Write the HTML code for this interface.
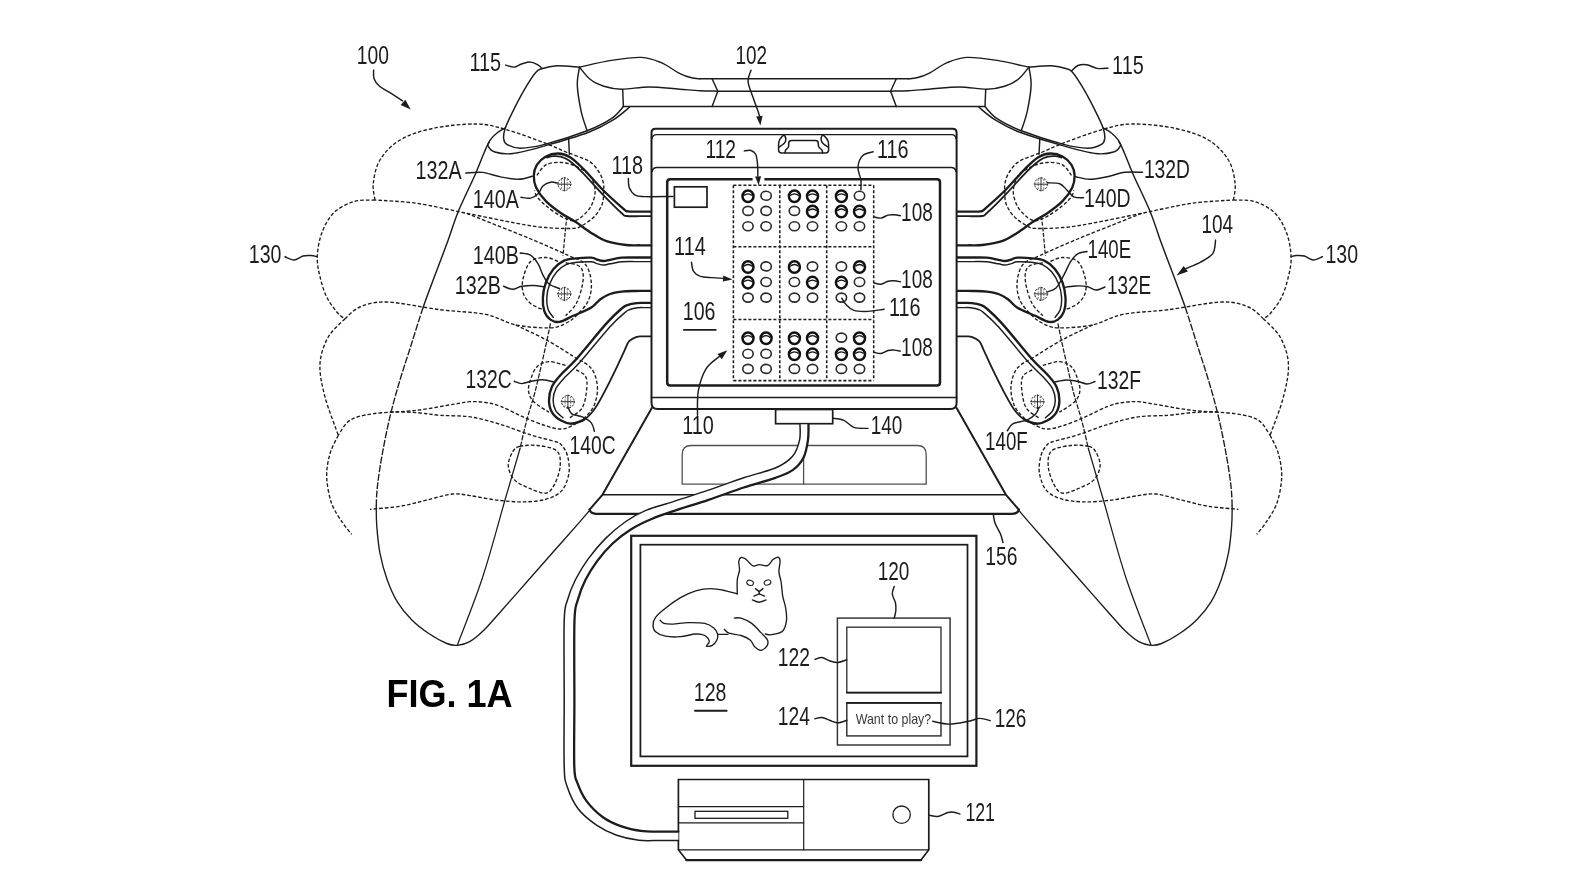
<!DOCTYPE html>
<html><head><meta charset="utf-8"><title>FIG. 1A</title>
<style>
html,body{margin:0;padding:0;background:#fff;}
body{width:1590px;height:892px;overflow:hidden;font-family:"Liberation Sans",sans-serif;}
svg{display:block;}
svg text{font-family:"Liberation Sans",sans-serif;}
</style></head><body>
<svg style="will-change:transform" width="1590" height="892" viewBox="0 0 1590 892">
<rect width="1590" height="892" fill="#fff"/>
<path d="M505.4,127.8C504.0,128.7 499.5,131.0 497.0,133.0C494.5,135.0 492.5,136.6 490.3,139.9C488.1,143.2 486.5,147.2 484.0,153.0C481.5,158.8 479.4,164.9 475.1,174.7C470.8,184.5 462.7,200.8 458.2,211.7C453.7,222.6 452.2,229.0 448.2,240.0C444.2,251.0 438.3,266.4 434.1,277.6C429.9,288.9 427.0,296.0 423.1,307.5" fill="none" stroke="#1c1c1c" stroke-width="1.45" stroke-linecap="round" stroke-linejoin="round" />
<path d="M423.1,307.5C419.2,319.0 414.5,334.4 410.6,346.7C406.7,359.0 403.0,369.7 399.6,381.2C396.2,392.7 393.1,403.7 390.2,415.7C387.3,427.7 384.5,441.8 382.4,453.3C380.3,464.8 378.6,475.9 377.6,484.7C376.6,493.5 376.4,499.1 376.3,506.0" fill="none" stroke="#1c1c1c" stroke-width="1.35" stroke-dasharray="7 1.6" stroke-linecap="butt" stroke-linejoin="round" />
<path d="M376.3,506.0C376.2,513.0 376.2,518.6 376.8,526.4C377.4,534.2 378.2,544.0 379.9,552.8C381.6,561.6 384.1,571.0 387.0,579.2C389.9,587.4 393.4,595.4 397.5,602.1C401.6,608.9 406.3,614.4 411.6,619.7C416.9,625.0 423.3,629.8 429.2,633.8C435.1,637.8 442.1,641.6 446.8,643.5C451.5,645.4 453.6,645.6 457.4,645.3C461.2,645.0 465.3,644.2 469.7,641.7C474.1,639.2 478.8,635.1 483.8,630.3C488.8,625.5 492.6,620.6 499.7,612.7C506.8,604.8 517.3,592.8 526.1,582.8C534.9,572.8 543.7,562.8 552.5,552.8C561.3,542.8 572.7,530.0 578.9,522.9C585.1,515.8 587.8,512.5 589.6,510.4" fill="none" stroke="#1c1c1c" stroke-width="1.35" stroke-linecap="round" stroke-linejoin="round" />
<path d="M1103.0,127.8C1104.4,128.7 1108.9,131.0 1111.4,133.0C1113.9,135.0 1115.9,136.6 1118.1,139.9C1120.3,143.2 1121.9,147.2 1124.4,153.0C1126.9,158.8 1129.0,164.9 1133.3,174.7C1137.6,184.5 1145.7,200.8 1150.2,211.7C1154.7,222.6 1156.2,229.0 1160.2,240.0C1164.2,251.0 1170.1,266.4 1174.3,277.6C1178.5,288.9 1181.4,296.0 1185.3,307.5" fill="none" stroke="#1c1c1c" stroke-width="1.45" stroke-linecap="round" stroke-linejoin="round" />
<path d="M1185.3,307.5C1189.2,319.0 1193.9,334.4 1197.8,346.7C1201.7,359.0 1205.4,369.7 1208.8,381.2C1212.2,392.7 1215.3,403.7 1218.2,415.7C1221.1,427.7 1223.9,441.8 1226.0,453.3C1228.1,464.8 1229.8,475.9 1230.8,484.7C1231.8,493.5 1232.0,499.1 1232.1,506.0" fill="none" stroke="#1c1c1c" stroke-width="1.35" stroke-dasharray="7 1.6" stroke-linecap="butt" stroke-linejoin="round" />
<path d="M1232.1,506.0C1232.2,513.0 1232.2,518.6 1231.6,526.4C1231.0,534.2 1230.2,544.0 1228.5,552.8C1226.8,561.6 1224.3,571.0 1221.4,579.2C1218.5,587.4 1215.0,595.4 1210.9,602.1C1206.8,608.9 1202.1,614.4 1196.8,619.7C1191.5,625.0 1185.1,629.8 1179.2,633.8C1173.3,637.8 1166.3,641.6 1161.6,643.5C1156.9,645.4 1154.8,645.6 1151.0,645.3C1147.2,645.0 1143.1,644.2 1138.7,641.7C1134.3,639.2 1129.6,635.1 1124.6,630.3C1119.6,625.5 1115.8,620.6 1108.7,612.7C1101.7,604.8 1091.1,592.8 1082.3,582.8C1073.5,572.8 1064.7,562.8 1055.9,552.8C1047.1,542.8 1035.7,530.0 1029.5,522.9C1023.3,515.8 1020.6,512.5 1018.8,510.4" fill="none" stroke="#1c1c1c" stroke-width="1.35" stroke-linecap="round" stroke-linejoin="round" />
<path d="M568.6,139.1L569.4,154.2" fill="none" stroke="#1c1c1c" stroke-width="1.45" stroke-linecap="round" stroke-linejoin="round" />
<path d="M1039.8,139.1L1039.0,154.2" fill="none" stroke="#1c1c1c" stroke-width="1.45" stroke-linecap="round" stroke-linejoin="round" />
<path d="M567.1,216.3C566.9,218.2 566.3,221.4 565.6,228.0C564.9,234.6 563.4,251.3 563.0,256.0" fill="none" stroke="#1c1c1c" stroke-width="1.25" stroke-dasharray="4 1.6" stroke-linecap="butt" stroke-linejoin="round" />
<path d="M1041.3,216.3C1041.5,218.2 1042.1,221.4 1042.8,228.0C1043.5,234.6 1045.0,251.3 1045.4,256.0" fill="none" stroke="#1c1c1c" stroke-width="1.25" stroke-dasharray="4 1.6" stroke-linecap="butt" stroke-linejoin="round" />
<path d="M550.5,323.4C549.5,328.2 547.0,340.6 544.4,352.0C541.8,363.4 537.9,380.7 535.0,392.0C532.1,403.3 529.3,410.7 526.8,420.0C524.3,429.3 521.3,443.3 520.2,448.0" fill="none" stroke="#1c1c1c" stroke-width="1.25" stroke-dasharray="5 1.4" stroke-linecap="butt" stroke-linejoin="round" />
<path d="M1057.9,323.4C1058.9,328.2 1061.4,340.6 1064.0,352.0C1066.6,363.4 1070.5,380.7 1073.4,392.0C1076.3,403.3 1079.1,410.7 1081.6,420.0C1084.1,429.3 1087.1,443.3 1088.2,448.0" fill="none" stroke="#1c1c1c" stroke-width="1.25" stroke-dasharray="5 1.4" stroke-linecap="butt" stroke-linejoin="round" />
<path d="M520.2,448.0C517.7,456.7 511.2,478.6 505.0,500.0C498.8,521.5 490.7,552.5 482.8,576.7C474.9,600.9 461.6,633.6 457.4,645.0" fill="none" stroke="#1c1c1c" stroke-width="1.25" stroke-linecap="round" stroke-linejoin="round" />
<path d="M1088.2,448.0C1090.7,456.7 1097.2,478.6 1103.4,500.0C1109.6,521.5 1117.7,552.5 1125.6,576.7C1133.5,600.9 1146.8,633.6 1151.0,645.0" fill="none" stroke="#1c1c1c" stroke-width="1.25" stroke-linecap="round" stroke-linejoin="round" />
<path d="M579.5,67.2C575.7,67.0 563.2,65.4 556.9,65.7C550.6,66.0 545.2,67.6 541.7,68.8C538.2,69.9 538.5,69.2 535.7,72.5C532.9,75.8 528.9,82.0 525.1,88.4C521.3,94.8 516.3,104.5 513.0,111.1C509.7,117.7 507.0,123.2 505.4,127.8C503.8,132.3 503.4,135.6 503.6,138.4C503.9,141.2 504.1,142.8 506.9,144.4C509.7,146.0 514.2,148.2 520.5,148.2C526.8,148.2 533.6,147.3 544.7,144.4C555.8,141.5 576.0,135.1 587.1,130.8C598.2,126.5 605.2,122.7 611.3,118.7C617.3,114.7 621.4,108.6 623.4,106.6" fill="none" stroke="#1c1c1c" stroke-width="1.45" stroke-linecap="round" stroke-linejoin="round" />
<path d="M1028.9,67.2C1032.7,67.0 1045.2,65.4 1051.5,65.7C1057.8,66.0 1063.2,67.6 1066.7,68.8C1070.2,69.9 1069.9,69.2 1072.7,72.5C1075.5,75.8 1079.5,82.0 1083.3,88.4C1087.1,94.8 1092.1,104.5 1095.4,111.1C1098.7,117.7 1101.4,123.2 1103.0,127.8C1104.6,132.3 1105.0,135.6 1104.8,138.4C1104.5,141.2 1104.3,142.8 1101.5,144.4C1098.7,146.0 1094.2,148.2 1087.9,148.2C1081.6,148.2 1074.8,147.3 1063.7,144.4C1052.6,141.5 1032.4,135.1 1021.3,130.8C1010.2,126.5 1003.1,122.7 997.1,118.7C991.1,114.7 987.0,108.6 985.0,106.6" fill="none" stroke="#1c1c1c" stroke-width="1.45" stroke-linecap="round" stroke-linejoin="round" />
<path d="M579.5,67.2C579.1,70.2 577.0,78.1 577.3,85.4C577.6,92.7 579.5,103.5 581.1,111.1C582.7,118.7 586.1,127.5 587.1,130.8" fill="none" stroke="#1c1c1c" stroke-width="1.45" stroke-linecap="round" stroke-linejoin="round" />
<path d="M1028.9,67.2C1029.3,70.2 1031.4,78.1 1031.1,85.4C1030.8,92.7 1028.9,103.5 1027.3,111.1C1025.7,118.7 1022.3,127.5 1021.3,130.8" fill="none" stroke="#1c1c1c" stroke-width="1.45" stroke-linecap="round" stroke-linejoin="round" />
<path d="M489.3,142.0C489.1,142.7 487.1,144.2 488.0,145.9C488.9,147.6 490.6,150.7 494.8,152.0C499.0,153.3 504.7,154.5 513.0,153.5C521.3,152.5 532.1,149.4 544.7,145.9C557.3,142.4 577.2,136.6 588.6,132.3C600.0,128.0 606.0,124.4 612.8,120.2C619.6,116.0 626.7,109.5 629.5,107.3" fill="none" stroke="#1c1c1c" stroke-width="1.45" stroke-linecap="round" stroke-linejoin="round" />
<path d="M1119.1,142.0C1119.3,142.7 1121.3,144.2 1120.4,145.9C1119.5,147.6 1117.8,150.7 1113.6,152.0C1109.4,153.3 1103.7,154.5 1095.4,153.5C1087.1,152.5 1076.3,149.4 1063.7,145.9C1051.1,142.4 1031.1,136.6 1019.8,132.3C1008.4,128.0 1002.4,124.4 995.6,120.2C988.8,116.0 981.7,109.5 978.9,107.3" fill="none" stroke="#1c1c1c" stroke-width="1.45" stroke-linecap="round" stroke-linejoin="round" />
<path d="M579.5,67.2C584.8,66.1 600.9,62.0 611.3,60.4C621.6,58.8 633.3,57.0 641.6,57.4C649.9,57.8 655.0,60.1 661.3,62.7C667.6,65.4 674.4,70.8 679.4,73.3C684.4,75.8 688.1,76.9 691.5,77.8C694.9,78.7 698.6,78.6 700.0,78.8" fill="none" stroke="#1c1c1c" stroke-width="1.45" stroke-linecap="round" stroke-linejoin="round" />
<path d="M1028.9,67.2C1023.6,66.1 1007.5,62.0 997.1,60.4C986.8,58.8 975.1,57.0 966.8,57.4C958.5,57.8 953.4,60.1 947.1,62.7C940.8,65.4 934.0,70.8 929.0,73.3C924.0,75.8 920.3,76.9 916.9,77.8C913.5,78.7 909.8,78.6 908.4,78.8" fill="none" stroke="#1c1c1c" stroke-width="1.45" stroke-linecap="round" stroke-linejoin="round" />
<path d="M579.5,67.2C581.3,69.2 586.1,76.1 590.1,79.3C594.1,82.5 598.5,84.5 603.8,86.2C609.1,87.9 614.3,89.1 621.9,89.2C629.5,89.3 639.6,86.9 649.2,86.9C658.8,86.9 670.9,88.6 679.4,89.2C687.9,89.8 693.6,90.4 700.0,90.7C706.4,91.0 714.8,91.1 717.8,91.2" fill="none" stroke="#1c1c1c" stroke-width="1.45" stroke-linecap="round" stroke-linejoin="round" />
<path d="M1028.9,67.2C1027.1,69.2 1022.3,76.1 1018.3,79.3C1014.2,82.5 1009.9,84.5 1004.6,86.2C999.3,87.9 994.1,89.1 986.5,89.2C978.9,89.3 968.8,86.9 959.2,86.9C949.6,86.9 937.5,88.6 929.0,89.2C920.5,89.8 914.8,90.4 908.4,90.7C902.0,91.0 893.6,91.1 890.6,91.2" fill="none" stroke="#1c1c1c" stroke-width="1.45" stroke-linecap="round" stroke-linejoin="round" />
<path d="M622.7,89.9L623.4,106.6" fill="none" stroke="#1c1c1c" stroke-width="1.45" stroke-linecap="round" stroke-linejoin="round" />
<path d="M985.7,89.9L985.0,106.6" fill="none" stroke="#1c1c1c" stroke-width="1.45" stroke-linecap="round" stroke-linejoin="round" />
<path d="M700.0,78.8L908.4,78.8" fill="none" stroke="#1c1c1c" stroke-width="1.45" stroke-linecap="round" stroke-linejoin="round" />
<path d="M717.8,91.2L890.6,91.2" fill="none" stroke="#1c1c1c" stroke-width="1.45" stroke-linecap="round" stroke-linejoin="round" />
<path d="M623.4,106.5L985.0,106.5" fill="none" stroke="#1c1c1c" stroke-width="1.45" stroke-linecap="round" stroke-linejoin="round" />
<path d="M712.1,78.8L717.8,91.2L712.1,106.5" fill="none" stroke="#1c1c1c" stroke-width="1.45" stroke-linecap="round" stroke-linejoin="round" />
<path d="M896.3,78.8L890.6,91.2L896.3,106.5" fill="none" stroke="#1c1c1c" stroke-width="1.45" stroke-linecap="round" stroke-linejoin="round" />
<path d="M651.5,211.6C649.6,211.6 643.9,211.6 640.0,211.6C636.1,211.6 630.8,211.9 628.0,211.4C625.2,210.9 627.6,212.3 623.5,208.8C619.4,205.3 610.0,197.1 603.4,190.5C596.8,183.9 589.3,174.9 583.8,169.3C578.2,163.8 574.4,159.8 570.1,157.2C565.8,154.6 562.0,153.6 558.0,153.5C554.0,153.4 549.4,154.6 545.9,156.5C542.4,158.4 538.9,161.7 536.9,164.8C534.9,168.0 533.9,171.6 533.8,175.4C533.7,179.2 534.1,183.2 536.1,187.5C538.1,191.8 541.7,196.8 545.9,201.1C550.1,205.4 556.0,209.7 561.1,213.2C566.2,216.7 571.2,219.0 576.2,222.3C581.2,225.6 586.2,229.8 591.3,232.9C596.3,236.1 600.7,239.2 606.5,241.2C612.3,243.2 620.5,244.3 626.1,245.0C631.7,245.7 635.8,245.2 640.0,245.3C644.2,245.4 649.6,245.3 651.5,245.3" fill="none" stroke="#1c1c1c" stroke-width="2.35" stroke-linecap="round" stroke-linejoin="round" />
<path d="M956.9,211.6C958.8,211.6 964.5,211.6 968.4,211.6C972.3,211.6 977.6,211.9 980.4,211.4C983.1,210.9 980.8,212.3 984.9,208.8C989.0,205.3 998.4,197.1 1005.0,190.5C1011.6,183.9 1019.0,174.9 1024.6,169.3C1030.1,163.8 1034.0,159.8 1038.3,157.2C1042.6,154.6 1046.4,153.6 1050.4,153.5C1054.4,153.4 1059.0,154.6 1062.5,156.5C1066.0,158.4 1069.5,161.7 1071.5,164.8C1073.5,168.0 1074.5,171.6 1074.6,175.4C1074.7,179.2 1074.3,183.2 1072.3,187.5C1070.3,191.8 1066.7,196.8 1062.5,201.1C1058.3,205.4 1052.3,209.7 1047.3,213.2C1042.2,216.7 1037.2,219.0 1032.2,222.3C1027.2,225.6 1022.2,229.8 1017.1,232.9C1012.0,236.1 1007.7,239.2 1001.9,241.2C996.1,243.2 987.9,244.3 982.3,245.0C976.7,245.7 972.6,245.2 968.4,245.3C964.2,245.4 958.8,245.3 956.9,245.3" fill="none" stroke="#1c1c1c" stroke-width="2.35" stroke-linecap="round" stroke-linejoin="round" />
<path d="M651.5,216.2C649.6,216.2 644.2,216.2 640.0,216.2C635.8,216.2 629.6,216.5 626.5,216.0C623.4,215.5 625.6,216.7 621.5,213.0C617.4,209.3 608.4,200.4 601.9,193.6C595.4,186.8 587.8,177.9 582.3,172.4C576.8,166.9 572.2,162.9 568.6,160.3C565.0,157.7 563.1,157.4 560.5,156.7C557.9,156.0 555.2,156.0 553.0,156.2C550.8,156.3 548.0,157.4 547.0,157.6" fill="none" stroke="#1c1c1c" stroke-width="1.8" stroke-linecap="round" stroke-linejoin="round" />
<path d="M956.9,216.2C958.8,216.2 964.2,216.2 968.4,216.2C972.6,216.2 978.8,216.5 981.9,216.0C985.0,215.5 982.8,216.7 986.9,213.0C991.0,209.3 1000.0,200.4 1006.5,193.6C1013.0,186.8 1020.5,177.9 1026.1,172.4C1031.6,166.9 1036.2,162.9 1039.8,160.3C1043.4,157.7 1045.3,157.4 1047.9,156.7C1050.5,156.0 1053.2,156.0 1055.4,156.2C1057.7,156.3 1060.4,157.4 1061.4,157.6" fill="none" stroke="#1c1c1c" stroke-width="1.8" stroke-linecap="round" stroke-linejoin="round" />
<path d="M651.5,257.5C648.8,257.5 640.0,257.5 635.0,257.5C630.0,257.5 625.8,257.3 621.6,257.7C617.4,258.1 613.0,259.2 610.0,259.8C607.0,260.4 605.6,261.1 603.4,261.0C601.2,260.9 599.0,260.1 597.0,259.5C595.0,258.9 594.8,257.9 591.3,257.7C587.8,257.5 580.7,257.8 576.2,258.3C571.7,258.8 567.9,258.8 564.1,260.6C560.3,262.4 556.5,265.2 553.5,268.9C550.5,272.5 547.7,277.7 545.9,282.5C544.1,287.3 543.1,292.8 542.9,297.6C542.6,302.4 543.1,307.6 544.4,311.3C545.7,315.0 548.0,317.8 550.5,319.6C553.0,321.4 555.7,322.5 559.5,321.9C563.3,321.3 567.9,318.2 573.2,315.8C578.5,313.4 586.8,310.3 591.3,307.5C595.8,304.7 597.3,301.4 600.4,299.2C603.5,296.9 606.5,295.3 610.0,294.0C613.5,292.7 617.4,292.1 621.6,291.6C625.8,291.1 630.0,291.1 635.0,291.0C640.0,290.9 648.8,290.8 651.5,290.8" fill="none" stroke="#1c1c1c" stroke-width="2.35" stroke-linecap="round" stroke-linejoin="round" />
<path d="M956.9,257.5C959.6,257.5 968.4,257.5 973.4,257.5C978.4,257.5 982.6,257.3 986.8,257.7C991.0,258.1 995.4,259.2 998.4,259.8C1001.4,260.4 1002.8,261.1 1005.0,261.0C1007.2,260.9 1009.4,260.1 1011.4,259.5C1013.4,258.9 1013.6,257.9 1017.1,257.7C1020.6,257.5 1027.7,257.8 1032.2,258.3C1036.7,258.8 1040.5,258.8 1044.3,260.6C1048.1,262.4 1051.9,265.2 1054.9,268.9C1057.9,272.5 1060.7,277.7 1062.5,282.5C1064.3,287.3 1065.2,292.8 1065.5,297.6C1065.8,302.4 1065.3,307.6 1064.0,311.3C1062.7,315.0 1060.4,317.8 1057.9,319.6C1055.4,321.4 1052.7,322.5 1048.9,321.9C1045.1,321.3 1040.5,318.2 1035.2,315.8C1029.9,313.4 1021.6,310.3 1017.1,307.5C1012.6,304.7 1011.1,301.4 1008.0,299.2C1004.9,296.9 1001.9,295.3 998.4,294.0C994.9,292.7 991.0,292.1 986.8,291.6C982.6,291.1 978.4,291.1 973.4,291.0C968.4,290.9 959.6,290.8 956.9,290.8" fill="none" stroke="#1c1c1c" stroke-width="2.35" stroke-linecap="round" stroke-linejoin="round" />
<path d="M651.5,261.6C648.8,261.6 640.0,261.6 635.0,261.6C630.0,261.6 625.8,261.4 621.6,261.8C617.4,262.2 613.0,263.3 610.0,263.8C607.0,264.3 605.6,265.0 603.4,265.0C601.2,265.0 599.0,264.1 597.0,263.6C595.0,263.1 594.6,262.0 591.3,261.8C588.0,261.6 581.2,261.8 577.0,262.3C572.8,262.8 569.4,263.0 566.0,264.6C562.6,266.2 559.5,268.6 556.8,271.8C554.1,275.0 551.4,279.7 549.7,284.0C548.0,288.3 547.0,293.3 546.8,297.6C546.5,301.9 547.1,306.5 548.2,309.8C549.3,313.1 552.4,316.1 553.3,317.3" fill="none" stroke="#1c1c1c" stroke-width="1.45" stroke-linecap="round" stroke-linejoin="round" />
<path d="M956.9,261.6C959.6,261.6 968.4,261.6 973.4,261.6C978.4,261.6 982.6,261.4 986.8,261.8C991.0,262.2 995.4,263.3 998.4,263.8C1001.4,264.3 1002.8,265.0 1005.0,265.0C1007.2,265.0 1009.4,264.1 1011.4,263.6C1013.4,263.1 1013.8,262.0 1017.1,261.8C1020.4,261.6 1027.2,261.8 1031.4,262.3C1035.6,262.8 1039.0,263.0 1042.4,264.6C1045.8,266.2 1048.9,268.6 1051.6,271.8C1054.3,275.0 1057.0,279.7 1058.7,284.0C1060.4,288.3 1061.3,293.3 1061.6,297.6C1061.8,301.9 1061.3,306.5 1060.2,309.8C1059.1,313.1 1055.9,316.1 1055.1,317.3" fill="none" stroke="#1c1c1c" stroke-width="1.45" stroke-linecap="round" stroke-linejoin="round" />
<path d="M651.5,302.9C650.1,302.9 645.5,302.9 643.0,302.9C640.5,302.9 639.2,302.8 636.7,303.1C634.2,303.4 630.5,303.9 628.0,304.8C625.5,305.7 625.2,305.5 621.6,308.6C618.0,311.7 614.1,314.9 606.5,323.4C598.9,331.8 583.8,350.8 576.2,359.3C568.6,367.8 565.1,369.9 561.1,374.5C557.1,379.1 554.0,382.3 552.0,386.6C550.0,390.9 549.0,395.9 549.0,400.2C549.0,404.5 550.0,408.9 552.0,412.3C554.0,415.7 557.8,418.7 561.1,420.6C564.4,422.5 567.9,423.8 571.7,423.7C575.5,423.6 581.8,420.5 583.8,419.9" fill="none" stroke="#1c1c1c" stroke-width="2.35" stroke-linecap="round" stroke-linejoin="round" />
<path d="M956.9,302.9C958.3,302.9 962.9,302.9 965.4,302.9C967.9,302.9 969.2,302.8 971.7,303.1C974.2,303.4 977.9,303.9 980.4,304.8C982.9,305.7 983.2,305.5 986.8,308.6C990.4,311.7 994.3,314.9 1001.9,323.4C1009.5,331.8 1024.6,350.8 1032.2,359.3C1039.8,367.8 1043.3,369.9 1047.3,374.5C1051.3,379.1 1054.4,382.3 1056.4,386.6C1058.4,390.9 1059.4,395.9 1059.4,400.2C1059.4,404.5 1058.4,408.9 1056.4,412.3C1054.4,415.7 1050.6,418.7 1047.3,420.6C1044.0,422.5 1040.5,423.8 1036.7,423.7C1032.9,423.6 1026.6,420.5 1024.6,419.9" fill="none" stroke="#1c1c1c" stroke-width="2.35" stroke-linecap="round" stroke-linejoin="round" />
<path d="M571.7,423.7C573.7,423.1 580.0,422.3 583.8,419.9C587.6,417.5 590.9,414.1 594.4,409.3C597.9,404.5 601.4,397.7 604.9,391.1C608.4,384.5 612.2,376.7 615.5,369.9C618.8,363.1 622.3,355.1 624.6,350.3C626.9,345.5 627.2,343.4 629.2,341.2C631.2,338.9 634.4,337.6 636.7,336.8C639.0,336.0 640.5,336.5 643.0,336.4C645.5,336.3 650.1,336.3 651.5,336.3" fill="none" stroke="#1c1c1c" stroke-width="1.8" stroke-linecap="round" stroke-linejoin="round" />
<path d="M1036.7,423.7C1034.7,423.1 1028.4,422.3 1024.6,419.9C1020.8,417.5 1017.5,414.1 1014.0,409.3C1010.5,404.5 1007.0,397.7 1003.5,391.1C1000.0,384.5 996.2,376.7 992.9,369.9C989.6,363.1 986.1,355.1 983.8,350.3C981.5,345.5 981.2,343.4 979.2,341.2C977.2,338.9 974.0,337.6 971.7,336.8C969.4,336.0 967.9,336.5 965.4,336.4C962.9,336.3 958.3,336.3 956.9,336.3" fill="none" stroke="#1c1c1c" stroke-width="1.8" stroke-linecap="round" stroke-linejoin="round" />
<path d="M651.5,307.6C650.1,307.6 645.3,307.6 643.0,307.6C640.7,307.6 639.7,307.5 637.5,307.8C635.3,308.1 632.1,308.7 630.0,309.5C627.9,310.3 628.2,309.7 624.8,312.6C621.4,315.5 617.3,318.7 609.8,327.0C602.3,335.3 587.1,354.2 579.6,362.6C572.1,371.0 568.6,373.3 564.6,377.6C560.6,381.9 557.8,384.9 555.9,388.6C554.0,392.3 553.1,396.4 553.1,400.0C553.1,403.6 554.0,407.4 555.6,410.4C557.2,413.4 561.8,416.6 563.0,417.8" fill="none" stroke="#1c1c1c" stroke-width="1.45" stroke-linecap="round" stroke-linejoin="round" />
<path d="M956.9,307.6C958.3,307.6 963.1,307.6 965.4,307.6C967.7,307.6 968.7,307.5 970.9,307.8C973.1,308.1 976.3,308.7 978.4,309.5C980.5,310.3 980.2,309.7 983.6,312.6C987.0,315.5 991.1,318.7 998.6,327.0C1006.1,335.3 1021.3,354.2 1028.8,362.6C1036.3,371.0 1039.8,373.3 1043.8,377.6C1047.8,381.9 1050.6,384.9 1052.5,388.6C1054.4,392.3 1055.2,396.4 1055.3,400.0C1055.3,403.6 1054.4,407.4 1052.8,410.4C1051.2,413.4 1046.6,416.6 1045.4,417.8" fill="none" stroke="#1c1c1c" stroke-width="1.45" stroke-linecap="round" stroke-linejoin="round" />
<circle cx="564.4" cy="184.2" r="6.3" fill="none" stroke="#1c1c1c" stroke-width="1" stroke-dasharray="2 1.2"/>
<path d="M557.6,184.2L571.2,184.2" fill="none" stroke="#1c1c1c" stroke-width="0.9" stroke-linecap="round" stroke-linejoin="round" />
<path d="M564.4,177.4L564.4,191.0" fill="none" stroke="#1c1c1c" stroke-width="0.9" stroke-linecap="round" stroke-linejoin="round" />
<path d="M561.6,179.2L561.6,189.2" fill="none" stroke="#1c1c1c" stroke-width="0.7" stroke-dasharray="1.5 1.2" stroke-linecap="butt" stroke-linejoin="round" />
<path d="M567.2,179.2L567.2,189.2" fill="none" stroke="#1c1c1c" stroke-width="0.7" stroke-dasharray="1.5 1.2" stroke-linecap="butt" stroke-linejoin="round" />
<circle cx="1041.0" cy="184.2" r="6.3" fill="none" stroke="#1c1c1c" stroke-width="1" stroke-dasharray="2 1.2"/>
<path d="M1034.2,184.2L1047.8,184.2" fill="none" stroke="#1c1c1c" stroke-width="0.9" stroke-linecap="round" stroke-linejoin="round" />
<path d="M1041.0,177.4L1041.0,191.0" fill="none" stroke="#1c1c1c" stroke-width="0.9" stroke-linecap="round" stroke-linejoin="round" />
<path d="M1038.2,179.2L1038.2,189.2" fill="none" stroke="#1c1c1c" stroke-width="0.7" stroke-dasharray="1.5 1.2" stroke-linecap="butt" stroke-linejoin="round" />
<path d="M1043.8,179.2L1043.8,189.2" fill="none" stroke="#1c1c1c" stroke-width="0.7" stroke-dasharray="1.5 1.2" stroke-linecap="butt" stroke-linejoin="round" />
<circle cx="564.4" cy="293.9" r="6.3" fill="none" stroke="#1c1c1c" stroke-width="1" stroke-dasharray="2 1.2"/>
<path d="M557.6,293.9L571.2,293.9" fill="none" stroke="#1c1c1c" stroke-width="0.9" stroke-linecap="round" stroke-linejoin="round" />
<path d="M564.4,287.1L564.4,300.7" fill="none" stroke="#1c1c1c" stroke-width="0.9" stroke-linecap="round" stroke-linejoin="round" />
<path d="M561.6,288.9L561.6,298.9" fill="none" stroke="#1c1c1c" stroke-width="0.7" stroke-dasharray="1.5 1.2" stroke-linecap="butt" stroke-linejoin="round" />
<path d="M567.2,288.9L567.2,298.9" fill="none" stroke="#1c1c1c" stroke-width="0.7" stroke-dasharray="1.5 1.2" stroke-linecap="butt" stroke-linejoin="round" />
<circle cx="1041.0" cy="293.9" r="6.3" fill="none" stroke="#1c1c1c" stroke-width="1" stroke-dasharray="2 1.2"/>
<path d="M1034.2,293.9L1047.8,293.9" fill="none" stroke="#1c1c1c" stroke-width="0.9" stroke-linecap="round" stroke-linejoin="round" />
<path d="M1041.0,287.1L1041.0,300.7" fill="none" stroke="#1c1c1c" stroke-width="0.9" stroke-linecap="round" stroke-linejoin="round" />
<path d="M1038.2,288.9L1038.2,298.9" fill="none" stroke="#1c1c1c" stroke-width="0.7" stroke-dasharray="1.5 1.2" stroke-linecap="butt" stroke-linejoin="round" />
<path d="M1043.8,288.9L1043.8,298.9" fill="none" stroke="#1c1c1c" stroke-width="0.7" stroke-dasharray="1.5 1.2" stroke-linecap="butt" stroke-linejoin="round" />
<circle cx="567.9" cy="401.7" r="6.3" fill="none" stroke="#1c1c1c" stroke-width="1" stroke-dasharray="2 1.2"/>
<path d="M561.1,401.7L574.7,401.7" fill="none" stroke="#1c1c1c" stroke-width="0.9" stroke-linecap="round" stroke-linejoin="round" />
<path d="M567.9,394.9L567.9,408.5" fill="none" stroke="#1c1c1c" stroke-width="0.9" stroke-linecap="round" stroke-linejoin="round" />
<path d="M565.1,396.7L565.1,406.7" fill="none" stroke="#1c1c1c" stroke-width="0.7" stroke-dasharray="1.5 1.2" stroke-linecap="butt" stroke-linejoin="round" />
<path d="M570.7,396.7L570.7,406.7" fill="none" stroke="#1c1c1c" stroke-width="0.7" stroke-dasharray="1.5 1.2" stroke-linecap="butt" stroke-linejoin="round" />
<circle cx="1037.5" cy="401.7" r="6.3" fill="none" stroke="#1c1c1c" stroke-width="1" stroke-dasharray="2 1.2"/>
<path d="M1030.7,401.7L1044.3,401.7" fill="none" stroke="#1c1c1c" stroke-width="0.9" stroke-linecap="round" stroke-linejoin="round" />
<path d="M1037.5,394.9L1037.5,408.5" fill="none" stroke="#1c1c1c" stroke-width="0.9" stroke-linecap="round" stroke-linejoin="round" />
<path d="M1034.7,396.7L1034.7,406.7" fill="none" stroke="#1c1c1c" stroke-width="0.7" stroke-dasharray="1.5 1.2" stroke-linecap="butt" stroke-linejoin="round" />
<path d="M1040.3,396.7L1040.3,406.7" fill="none" stroke="#1c1c1c" stroke-width="0.7" stroke-dasharray="1.5 1.2" stroke-linecap="butt" stroke-linejoin="round" />
<path d="M651.8,408.0L602.6,494.6L589.6,509.6" fill="none" stroke="#1c1c1c" stroke-width="2.0" stroke-linecap="round" stroke-linejoin="round" />
<path d="M956.6,408.0L1005.8,494.6L1018.8,509.6" fill="none" stroke="#1c1c1c" stroke-width="2.0" stroke-linecap="round" stroke-linejoin="round" />
<path d="M603.0,494.8L1005.4,494.8" fill="none" stroke="#1c1c1c" stroke-width="1.45" stroke-linecap="round" stroke-linejoin="round" />
<path d="M589.6,509.6 Q590.5,513.8 596,513.8 L1012.4,513.8 Q1017.9,513.8 1018.8,509.6" fill="none" stroke="#1c1c1c" stroke-width="2.3" stroke-linecap="round"/>
<path d="M682.2,484.2 L682.2,454.5 Q682.2,445.5 691.2,445.5 L917.2,445.5 Q926.2,445.5 926.2,454.5 L926.2,484.2 Z" fill="none" stroke="#505050" stroke-width="1.3"/>
<path d="M803.6,445.5L803.6,484.2" fill="none" stroke="#505050" stroke-width="1.3" stroke-linecap="round" stroke-linejoin="round" />
<path d="M651.5,132.8 L651.5,403.0 Q651.5,409.0 657.5,409.0 L950.6,409.0 Q956.6,409.0 956.6,403.0 L956.6,132.8 Q956.6,128.8 952.6,128.8 L655.5,128.8 Q651.5,128.8 651.5,132.8 Z" fill="#fff" stroke="#1c1c1c" stroke-width="2.0"/>
<path d="M652.0,138.8 Q652.5,134.6 656.5,134.6 L951.6,134.6 Q955.6,134.6 956.1,138.8" fill="none" stroke="#1c1c1c" stroke-width="1.45"/>
<path d="M652.0,172.0 Q652.5,167.4 657.0,167.4 L951.1,167.4 Q955.6,167.4 956.1,172.0" fill="none" stroke="#1c1c1c" stroke-width="1.5"/>
<path d="M651.5,397.4L956.6,397.4" fill="none" stroke="#1c1c1c" stroke-width="1.45" stroke-linecap="round" stroke-linejoin="round" />
<path d="M784.2,134.7 C780.5,137.5 778.6,141 778.6,144.5 L778.6,150 Q778.6,153 781.8,153 L825.4,153 Q828.6,153 828.6,150 L828.6,144.5 C828.6,141 826.7,137.5 822.5,134.7" fill="none" stroke="#1c1c1c" stroke-width="1.5" stroke-linecap="round" stroke-linejoin="round" />
<path d="M785,152.8 L785.6,150 C788,148 788.7,147 788.7,146 L788.7,143 Q788.7,140.4 791.5,140.4 L815.3,140.4 Q818.2,140.4 818.3,143 L818.4,146 C818.5,147 819.5,148 822,150 L822.6,152.8" fill="none" stroke="#1c1c1c" stroke-width="1.5" stroke-linecap="round" stroke-linejoin="round" />
<path d="M784.2,134.7 C786.5,138 786.3,141 784.2,143.2 C782.5,145 780.5,146 779,147" fill="none" stroke="#1c1c1c" stroke-width="1.5" stroke-linecap="round" stroke-linejoin="round" />
<path d="M822.5,134.7 C820.5,138 820.7,141 822.8,143.2 C824.5,145 826.5,146 828.2,147" fill="none" stroke="#1c1c1c" stroke-width="1.5" stroke-linecap="round" stroke-linejoin="round" />
<path d="M752.6,179.3 L670.2,179.3 Q667.2,179.3 667.2,182.3 L667.2,382.4 Q667.2,385.4 670.2,385.4 L937.0,385.4 Q940.0,385.4 940.0,382.4 L940.0,182.3 Q940.0,179.3 937.0,179.3 L764.4,179.3" fill="none" stroke="#1c1c1c" stroke-width="2.5" stroke-linecap="butt"/>
<rect x="674.4" y="186.8" width="32.6" height="20.4" fill="none" stroke="#1c1c1c" stroke-width="1.7"/>
<path d="M733.4,185.3L733.4,380.6" fill="none" stroke="#1c1c1c" stroke-width="1.55" stroke-dasharray="3 2" stroke-linecap="butt" stroke-linejoin="round" />
<path d="M779.8,185.3L779.8,380.6" fill="none" stroke="#1c1c1c" stroke-width="1.55" stroke-dasharray="3 2" stroke-linecap="butt" stroke-linejoin="round" />
<path d="M826.7,185.3L826.7,380.6" fill="none" stroke="#1c1c1c" stroke-width="1.55" stroke-dasharray="3 2" stroke-linecap="butt" stroke-linejoin="round" />
<path d="M873.7,185.3L873.7,380.6" fill="none" stroke="#1c1c1c" stroke-width="1.55" stroke-dasharray="3 2" stroke-linecap="butt" stroke-linejoin="round" />
<path d="M733.4,185.3L873.7,185.3" fill="none" stroke="#1c1c1c" stroke-width="1.55" stroke-dasharray="3 2" stroke-linecap="butt" stroke-linejoin="round" />
<path d="M733.4,246.8L873.7,246.8" fill="none" stroke="#1c1c1c" stroke-width="1.55" stroke-dasharray="3 2" stroke-linecap="butt" stroke-linejoin="round" />
<path d="M733.4,319.4L873.7,319.4" fill="none" stroke="#1c1c1c" stroke-width="1.55" stroke-dasharray="3 2" stroke-linecap="butt" stroke-linejoin="round" />
<path d="M733.4,380.6L873.7,380.6" fill="none" stroke="#1c1c1c" stroke-width="1.55" stroke-dasharray="3 2" stroke-linecap="butt" stroke-linejoin="round" />
<ellipse cx="748.0" cy="196.3" rx="5.5" ry="5.8" fill="none" stroke="#111" stroke-width="2.5"/>
<path d="M743.8,195.5 Q748.0,192.1 752.2,195.5" fill="none" stroke="#111" stroke-width="1.3"/>
<ellipse cx="766.1" cy="195.7" rx="5.2" ry="4.5" fill="none" stroke="#2a2a2a" stroke-width="1.6"/>
<ellipse cx="748.0" cy="210.9" rx="5.2" ry="4.5" fill="none" stroke="#2a2a2a" stroke-width="1.6"/>
<ellipse cx="766.1" cy="210.9" rx="5.2" ry="4.5" fill="none" stroke="#2a2a2a" stroke-width="1.6"/>
<ellipse cx="748.0" cy="226.3" rx="5.2" ry="4.5" fill="none" stroke="#2a2a2a" stroke-width="1.6"/>
<ellipse cx="766.1" cy="226.3" rx="5.2" ry="4.5" fill="none" stroke="#2a2a2a" stroke-width="1.6"/>
<ellipse cx="794.4" cy="196.3" rx="5.5" ry="5.8" fill="none" stroke="#111" stroke-width="2.5"/>
<path d="M790.2,195.5 Q794.4,192.1 798.6,195.5" fill="none" stroke="#111" stroke-width="1.3"/>
<ellipse cx="812.5" cy="196.3" rx="5.5" ry="5.8" fill="none" stroke="#111" stroke-width="2.5"/>
<path d="M808.3,195.5 Q812.5,192.1 816.7,195.5" fill="none" stroke="#111" stroke-width="1.3"/>
<ellipse cx="794.4" cy="210.9" rx="5.2" ry="4.5" fill="none" stroke="#2a2a2a" stroke-width="1.6"/>
<ellipse cx="812.5" cy="211.5" rx="5.5" ry="5.8" fill="none" stroke="#111" stroke-width="2.5"/>
<path d="M808.3,210.7 Q812.5,207.3 816.7,210.7" fill="none" stroke="#111" stroke-width="1.3"/>
<ellipse cx="794.4" cy="226.3" rx="5.2" ry="4.5" fill="none" stroke="#2a2a2a" stroke-width="1.6"/>
<ellipse cx="812.5" cy="226.3" rx="5.2" ry="4.5" fill="none" stroke="#2a2a2a" stroke-width="1.6"/>
<ellipse cx="841.4" cy="196.3" rx="5.5" ry="5.8" fill="none" stroke="#111" stroke-width="2.5"/>
<path d="M837.2,195.5 Q841.4,192.1 845.6,195.5" fill="none" stroke="#111" stroke-width="1.3"/>
<ellipse cx="859.5" cy="195.7" rx="5.2" ry="4.5" fill="none" stroke="#2a2a2a" stroke-width="1.6"/>
<ellipse cx="841.4" cy="211.5" rx="5.5" ry="5.8" fill="none" stroke="#111" stroke-width="2.5"/>
<path d="M837.2,210.7 Q841.4,207.3 845.6,210.7" fill="none" stroke="#111" stroke-width="1.3"/>
<ellipse cx="859.5" cy="211.5" rx="5.5" ry="5.8" fill="none" stroke="#111" stroke-width="2.5"/>
<path d="M855.3,210.7 Q859.5,207.3 863.7,210.7" fill="none" stroke="#111" stroke-width="1.3"/>
<ellipse cx="841.4" cy="226.3" rx="5.2" ry="4.5" fill="none" stroke="#2a2a2a" stroke-width="1.6"/>
<ellipse cx="859.5" cy="226.3" rx="5.2" ry="4.5" fill="none" stroke="#2a2a2a" stroke-width="1.6"/>
<ellipse cx="748.0" cy="267.0" rx="5.5" ry="5.8" fill="none" stroke="#111" stroke-width="2.5"/>
<path d="M743.8,266.2 Q748.0,262.8 752.2,266.2" fill="none" stroke="#111" stroke-width="1.3"/>
<ellipse cx="766.1" cy="266.4" rx="5.2" ry="4.5" fill="none" stroke="#2a2a2a" stroke-width="1.6"/>
<ellipse cx="748.0" cy="282.6" rx="5.5" ry="5.8" fill="none" stroke="#111" stroke-width="2.5"/>
<path d="M743.8,281.8 Q748.0,278.4 752.2,281.8" fill="none" stroke="#111" stroke-width="1.3"/>
<ellipse cx="766.1" cy="282.0" rx="5.2" ry="4.5" fill="none" stroke="#2a2a2a" stroke-width="1.6"/>
<ellipse cx="748.0" cy="297.6" rx="5.2" ry="4.5" fill="none" stroke="#2a2a2a" stroke-width="1.6"/>
<ellipse cx="766.1" cy="297.6" rx="5.2" ry="4.5" fill="none" stroke="#2a2a2a" stroke-width="1.6"/>
<ellipse cx="794.4" cy="267.0" rx="5.5" ry="5.8" fill="none" stroke="#111" stroke-width="2.5"/>
<path d="M790.2,266.2 Q794.4,262.8 798.6,266.2" fill="none" stroke="#111" stroke-width="1.3"/>
<ellipse cx="812.5" cy="266.4" rx="5.2" ry="4.5" fill="none" stroke="#2a2a2a" stroke-width="1.6"/>
<ellipse cx="794.4" cy="282.0" rx="5.2" ry="4.5" fill="none" stroke="#2a2a2a" stroke-width="1.6"/>
<ellipse cx="812.5" cy="282.6" rx="5.5" ry="5.8" fill="none" stroke="#111" stroke-width="2.5"/>
<path d="M808.3,281.8 Q812.5,278.4 816.7,281.8" fill="none" stroke="#111" stroke-width="1.3"/>
<ellipse cx="794.4" cy="297.6" rx="5.2" ry="4.5" fill="none" stroke="#2a2a2a" stroke-width="1.6"/>
<ellipse cx="812.5" cy="297.6" rx="5.2" ry="4.5" fill="none" stroke="#2a2a2a" stroke-width="1.6"/>
<ellipse cx="841.4" cy="266.4" rx="5.2" ry="4.5" fill="none" stroke="#2a2a2a" stroke-width="1.6"/>
<ellipse cx="859.5" cy="267.0" rx="5.5" ry="5.8" fill="none" stroke="#111" stroke-width="2.5"/>
<path d="M855.3,266.2 Q859.5,262.8 863.7,266.2" fill="none" stroke="#111" stroke-width="1.3"/>
<ellipse cx="841.4" cy="282.6" rx="5.5" ry="5.8" fill="none" stroke="#111" stroke-width="2.5"/>
<path d="M837.2,281.8 Q841.4,278.4 845.6,281.8" fill="none" stroke="#111" stroke-width="1.3"/>
<ellipse cx="859.5" cy="282.0" rx="5.2" ry="4.5" fill="none" stroke="#2a2a2a" stroke-width="1.6"/>
<ellipse cx="841.4" cy="297.6" rx="5.2" ry="4.5" fill="none" stroke="#2a2a2a" stroke-width="1.6"/>
<ellipse cx="859.5" cy="297.6" rx="5.2" ry="4.5" fill="none" stroke="#2a2a2a" stroke-width="1.6"/>
<ellipse cx="748.0" cy="338.2" rx="5.5" ry="5.8" fill="none" stroke="#111" stroke-width="2.5"/>
<path d="M743.8,337.4 Q748.0,334.0 752.2,337.4" fill="none" stroke="#111" stroke-width="1.3"/>
<ellipse cx="766.1" cy="338.2" rx="5.5" ry="5.8" fill="none" stroke="#111" stroke-width="2.5"/>
<path d="M761.9,337.4 Q766.1,334.0 770.3,337.4" fill="none" stroke="#111" stroke-width="1.3"/>
<ellipse cx="748.0" cy="353.7" rx="5.2" ry="4.5" fill="none" stroke="#2a2a2a" stroke-width="1.6"/>
<ellipse cx="766.1" cy="353.7" rx="5.2" ry="4.5" fill="none" stroke="#2a2a2a" stroke-width="1.6"/>
<ellipse cx="748.0" cy="368.9" rx="5.2" ry="4.5" fill="none" stroke="#2a2a2a" stroke-width="1.6"/>
<ellipse cx="766.1" cy="368.9" rx="5.2" ry="4.5" fill="none" stroke="#2a2a2a" stroke-width="1.6"/>
<ellipse cx="794.4" cy="338.2" rx="5.5" ry="5.8" fill="none" stroke="#111" stroke-width="2.5"/>
<path d="M790.2,337.4 Q794.4,334.0 798.6,337.4" fill="none" stroke="#111" stroke-width="1.3"/>
<ellipse cx="812.5" cy="338.2" rx="5.5" ry="5.8" fill="none" stroke="#111" stroke-width="2.5"/>
<path d="M808.3,337.4 Q812.5,334.0 816.7,337.4" fill="none" stroke="#111" stroke-width="1.3"/>
<ellipse cx="794.4" cy="354.3" rx="5.5" ry="5.8" fill="none" stroke="#111" stroke-width="2.5"/>
<path d="M790.2,353.5 Q794.4,350.1 798.6,353.5" fill="none" stroke="#111" stroke-width="1.3"/>
<ellipse cx="812.5" cy="354.3" rx="5.5" ry="5.8" fill="none" stroke="#111" stroke-width="2.5"/>
<path d="M808.3,353.5 Q812.5,350.1 816.7,353.5" fill="none" stroke="#111" stroke-width="1.3"/>
<ellipse cx="794.4" cy="368.9" rx="5.2" ry="4.5" fill="none" stroke="#2a2a2a" stroke-width="1.6"/>
<ellipse cx="812.5" cy="368.9" rx="5.2" ry="4.5" fill="none" stroke="#2a2a2a" stroke-width="1.6"/>
<ellipse cx="841.4" cy="337.6" rx="5.2" ry="4.5" fill="none" stroke="#2a2a2a" stroke-width="1.6"/>
<ellipse cx="859.5" cy="338.2" rx="5.5" ry="5.8" fill="none" stroke="#111" stroke-width="2.5"/>
<path d="M855.3,337.4 Q859.5,334.0 863.7,337.4" fill="none" stroke="#111" stroke-width="1.3"/>
<ellipse cx="841.4" cy="354.3" rx="5.5" ry="5.8" fill="none" stroke="#111" stroke-width="2.5"/>
<path d="M837.2,353.5 Q841.4,350.1 845.6,353.5" fill="none" stroke="#111" stroke-width="1.3"/>
<ellipse cx="859.5" cy="354.3" rx="5.5" ry="5.8" fill="none" stroke="#111" stroke-width="2.5"/>
<path d="M855.3,353.5 Q859.5,350.1 863.7,353.5" fill="none" stroke="#111" stroke-width="1.3"/>
<ellipse cx="841.4" cy="368.9" rx="5.2" ry="4.5" fill="none" stroke="#2a2a2a" stroke-width="1.6"/>
<ellipse cx="859.5" cy="368.9" rx="5.2" ry="4.5" fill="none" stroke="#2a2a2a" stroke-width="1.6"/>
<rect x="775.6" y="409.5" width="57.1" height="14.2" fill="#fff" stroke="#1c1c1c" stroke-width="1.7"/>
<rect x="631.2" y="535.8" width="345.2" height="230.0" fill="#fff" stroke="#1c1c1c" stroke-width="2.2"/>
<rect x="640.4" y="544.7" width="327.1" height="211.7" fill="none" stroke="#1c1c1c" stroke-width="1.75"/>
<rect x="837.4" y="618.1" width="112.7" height="126.9" fill="none" stroke="#383838" stroke-width="1.5"/>
<rect x="846.8" y="627.2" width="94.2" height="65.4" fill="none" stroke="#383838" stroke-width="1.4"/>
<path d="M846.8,692.6L941.0,692.6" fill="none" stroke="#1c1c1c" stroke-width="1.9" stroke-linecap="round" stroke-linejoin="round" />
<rect x="846.8" y="702.9" width="94.2" height="33.0" fill="none" stroke="#383838" stroke-width="1.5"/>
<path d="M846.8,702.9L941.0,702.9" fill="none" stroke="#1c1c1c" stroke-width="1.9" stroke-linecap="round" stroke-linejoin="round" />
<path d="M737.3,593.9C737.3,591.5 736.9,583.4 737.3,579.5C737.7,575.6 739.2,573.4 739.5,570.4C739.8,567.4 738.5,563.4 738.8,561.3C739.1,559.1 740.0,557.9 741.1,557.5C742.2,557.1 743.6,557.6 745.6,559.0C747.6,560.4 750.9,565.0 753.2,565.9C755.5,566.8 756.8,564.6 759.2,564.6C761.6,564.6 765.2,566.4 767.5,565.6C769.8,564.8 771.0,561.2 772.8,559.8C774.6,558.4 776.9,556.9 778.1,557.1C779.3,557.4 780.0,558.8 780.1,561.3C780.2,563.8 778.7,568.4 778.9,571.9C779.1,575.4 780.6,578.5 781.2,582.5C781.8,586.5 782.0,591.8 782.7,596.1C783.5,600.4 785.1,604.2 785.7,608.2C786.3,612.2 787.0,616.5 786.5,620.3C786.0,624.1 785.2,628.5 782.7,630.9C780.2,633.3 774.2,634.2 771.3,634.7C768.4,635.2 766.3,634.1 765.3,634.0" fill="none" stroke="#1c1c1c" stroke-width="1.35" stroke-linecap="round" stroke-linejoin="round" />
<path d="M737.3,593.9C735.4,593.4 730.3,591.7 725.9,590.8C721.5,589.9 715.8,588.6 710.8,588.6C705.8,588.6 700.8,589.3 695.7,590.8C690.7,592.3 685.5,594.7 680.5,597.6C675.5,600.5 669.5,604.9 665.4,608.2C661.2,611.5 657.7,614.5 655.6,617.3C653.5,620.1 653.0,622.5 653.0,624.9C653.0,627.3 653.5,629.8 655.6,631.7C657.7,633.6 661.2,635.4 665.4,636.2C669.5,637.0 675.5,637.1 680.5,636.7C685.5,636.3 691.7,634.2 695.7,634.0C699.7,633.8 702.4,634.2 704.7,635.5C707.0,636.8 709.0,639.7 709.3,641.5C709.6,643.3 705.8,645.5 706.3,646.1C706.8,646.7 710.5,646.3 712.3,645.3C714.1,644.3 716.0,641.9 716.9,640.0C717.8,638.1 718.1,636.0 717.6,634.0C717.1,632.0 715.9,629.7 713.8,627.9C711.6,626.1 709.0,624.3 704.7,623.4C700.4,622.5 693.4,622.5 688.1,622.6C682.8,622.7 677.0,624.0 673.0,624.1C669.0,624.2 666.0,624.0 663.9,623.4C661.8,622.8 660.7,620.8 660.1,620.3" fill="none" stroke="#1c1c1c" stroke-width="1.35" stroke-linecap="round" stroke-linejoin="round" />
<path d="M734.3,618.1C735.4,618.1 738.2,617.2 741.1,618.1C744.0,619.0 748.4,621.0 751.7,623.4C755.0,625.8 758.1,629.6 760.7,632.4C763.3,635.2 766.5,637.7 767.5,640.0C768.5,642.3 767.9,644.4 766.8,646.1C765.7,647.8 762.7,650.2 760.7,650.3C758.7,650.4 756.5,648.5 754.7,646.8C752.9,645.1 752.4,641.9 750.1,640.0C747.8,638.1 744.6,636.6 741.1,635.5C737.6,634.4 731.8,634.2 729.0,633.2C726.2,632.2 725.2,630.0 724.4,629.4" fill="none" stroke="#1c1c1c" stroke-width="1.35" stroke-linecap="round" stroke-linejoin="round" />
<path d="M717.6,634.3L728.0,634.3" fill="none" stroke="#1c1c1c" stroke-width="1.35" stroke-linecap="round" stroke-linejoin="round" />
<ellipse cx="750.1" cy="582.8" rx="3.4" ry="2.5" transform="rotate(20 750.1 582.8)" fill="none" stroke="#1c1c1c" stroke-width="1.1"/>
<ellipse cx="767.5" cy="582.5" rx="3.4" ry="2.5" transform="rotate(-20 767.5 582.5)" fill="none" stroke="#1c1c1c" stroke-width="1.1"/>
<path d="M755.4,588.6L759.2,591.6L763.0,588.6" fill="none" stroke="#1c1c1c" stroke-width="1.35" stroke-linecap="round" stroke-linejoin="round" />
<path d="M759.2,591.6L759.2,593.9" fill="none" stroke="#1c1c1c" stroke-width="1.35" stroke-linecap="round" stroke-linejoin="round" />
<path d="M753.9,596.1L759.2,593.9L764.5,596.1" fill="none" stroke="#1c1c1c" stroke-width="1.35" stroke-linecap="round" stroke-linejoin="round" />
<path d="M752.4,599.9C753.5,600.3 756.9,602.2 759.2,602.2C761.5,602.2 764.9,600.3 766.0,599.9" fill="none" stroke="#1c1c1c" stroke-width="1.35" stroke-linecap="round" stroke-linejoin="round" />
<path d="M678.4,779.5 L928.8,779.5 L928.8,849.8 L921.0,860.0 L686.4,860.0 L678.4,849.8 Z" fill="#fff" stroke="#1c1c1c" stroke-width="1.7"/>
<path d="M686.4,860.2L921.0,860.2" fill="none" stroke="#1c1c1c" stroke-width="2.3" stroke-linecap="round" stroke-linejoin="round" />
<path d="M678.4,849.8L928.8,849.8" fill="none" stroke="#1c1c1c" stroke-width="1.2" stroke-linecap="round" stroke-linejoin="round" />
<path d="M803.7,779.5L803.7,849.8" fill="none" stroke="#1c1c1c" stroke-width="1.2" stroke-linecap="round" stroke-linejoin="round" />
<path d="M678.4,806.6L803.7,806.6" fill="none" stroke="#1c1c1c" stroke-width="1.2" stroke-linecap="round" stroke-linejoin="round" />
<path d="M678.4,822.8L803.7,822.8" fill="none" stroke="#1c1c1c" stroke-width="1.2" stroke-linecap="round" stroke-linejoin="round" />
<rect x="695" y="811.3" width="92.8" height="7" fill="none" stroke="#1c1c1c" stroke-width="1.3"/>
<circle cx="901.6" cy="814.7" r="8.7" fill="none" stroke="#1c1c1c" stroke-width="1.3"/>
<path d="M800.0,424.4C799.9,427.0 800.8,434.7 799.6,439.9C798.4,445.1 796.8,451.2 793.0,455.8C789.2,460.4 785.3,463.5 777.1,467.2C768.9,470.9 755.1,474.0 743.7,477.8C732.3,481.6 720.2,486.1 708.5,490.1C696.8,494.1 683.7,498.2 673.3,501.6C662.9,505.0 653.8,507.1 645.9,510.4C638.0,513.7 632.5,516.8 625.8,521.5C619.1,526.2 611.8,532.2 605.6,538.4C599.4,544.6 593.5,551.7 588.4,558.6C583.3,565.5 578.8,573.1 575.3,580.0C571.8,586.9 569.4,593.3 567.5,600.0C565.6,606.7 564.8,603.3 564.2,620.0C563.7,636.7 564.2,675.6 564.2,700.0C564.2,724.4 563.7,752.1 564.2,766.6C564.7,781.1 564.9,779.7 567.2,786.8C569.6,793.9 573.4,802.6 578.3,809.0C583.2,815.4 590.1,820.7 596.5,825.1C602.9,829.5 609.6,832.7 616.7,835.2C623.8,837.7 631.7,839.3 638.9,840.2C646.1,841.1 653.4,840.4 660.0,840.4C666.6,840.4 675.3,840.4 678.4,840.4L678.4,831.6C675.3,831.6 665.9,831.7 660.0,831.6C654.1,831.5 649.4,832.1 642.9,831.2C636.4,830.3 627.4,828.5 620.7,826.1C614.0,823.7 608.3,821.2 602.6,817.0C596.9,812.8 590.6,806.6 586.4,800.9C582.2,795.2 579.3,788.4 577.3,782.7C575.3,777.0 574.8,780.4 574.3,766.6C573.8,752.8 574.4,724.4 574.4,700.0C574.4,675.6 573.9,636.7 574.5,620.0C575.1,603.3 576.0,606.7 577.8,600.0C579.6,593.3 582.1,586.6 585.4,580.0C588.7,573.4 593.0,566.7 597.5,560.6C602.0,554.5 607.1,548.7 612.6,543.5C618.1,538.3 624.4,533.5 630.8,529.5C637.2,525.5 643.9,522.3 651.0,519.3C658.1,516.2 663.7,514.4 673.3,511.2C682.9,507.9 696.8,503.8 708.5,499.8C720.2,495.9 732.6,491.2 743.7,487.5C754.9,483.8 767.2,480.7 775.4,477.8C783.6,474.9 788.3,473.3 793.0,469.9C797.7,466.5 801.1,462.5 803.6,457.5C806.1,452.5 807.2,445.4 808.0,439.9C808.8,434.4 808.4,427.0 808.5,424.4Z" fill="#fff" stroke="none"/>
<path d="M800.0,424.4C799.9,427.0 800.8,434.7 799.6,439.9C798.4,445.1 796.8,451.2 793.0,455.8C789.2,460.4 785.3,463.5 777.1,467.2C768.9,470.9 755.1,474.0 743.7,477.8C732.3,481.6 720.2,486.1 708.5,490.1C696.8,494.1 683.7,498.2 673.3,501.6C662.9,505.0 653.8,507.1 645.9,510.4C638.0,513.7 632.5,516.8 625.8,521.5C619.1,526.2 611.8,532.2 605.6,538.4C599.4,544.6 593.5,551.7 588.4,558.6C583.3,565.5 578.8,573.1 575.3,580.0C571.8,586.9 569.4,593.3 567.5,600.0C565.6,606.7 564.8,603.3 564.2,620.0C563.7,636.7 564.2,675.6 564.2,700.0C564.2,724.4 563.7,752.1 564.2,766.6C564.7,781.1 564.9,779.7 567.2,786.8C569.6,793.9 573.4,802.6 578.3,809.0C583.2,815.4 590.1,820.7 596.5,825.1C602.9,829.5 609.6,832.7 616.7,835.2C623.8,837.7 631.7,839.3 638.9,840.2C646.1,841.1 653.4,840.4 660.0,840.4C666.6,840.4 675.3,840.4 678.4,840.4" fill="none" stroke="#1c1c1c" stroke-width="1.5" stroke-linecap="round" stroke-linejoin="round" />
<path d="M808.5,424.4C808.4,427.0 808.8,434.4 808.0,439.9C807.2,445.4 806.1,452.5 803.6,457.5C801.1,462.5 797.7,466.5 793.0,469.9C788.3,473.3 783.6,474.9 775.4,477.8C767.2,480.7 754.9,483.8 743.7,487.5C732.6,491.2 720.2,495.9 708.5,499.8C696.8,503.8 682.9,507.9 673.3,511.2C663.7,514.4 658.1,516.2 651.0,519.3C643.9,522.3 637.2,525.5 630.8,529.5C624.4,533.5 618.1,538.3 612.6,543.5C607.1,548.7 602.0,554.5 597.5,560.6C593.0,566.7 588.7,573.4 585.4,580.0C582.1,586.6 579.6,593.3 577.8,600.0C576.0,606.7 575.1,603.3 574.5,620.0C573.9,636.7 574.4,675.6 574.4,700.0C574.4,724.4 573.8,752.8 574.3,766.6C574.8,780.4 575.3,777.0 577.3,782.7C579.3,788.4 582.2,795.2 586.4,800.9C590.6,806.6 596.9,812.8 602.6,817.0C608.3,821.2 614.0,823.7 620.7,826.1C627.4,828.5 636.4,830.3 642.9,831.2C649.4,832.1 654.1,831.5 660.0,831.6C665.9,831.7 675.3,831.6 678.4,831.6" fill="none" stroke="#1c1c1c" stroke-width="2.3" stroke-linecap="round" stroke-linejoin="round" />
<path d="M375.0,200.0C374.7,197.2 372.5,190.0 373.3,183.3C374.1,176.6 375.6,167.2 380.0,160.0C384.4,152.8 391.1,145.3 400.0,140.0C408.9,134.7 420.5,131.0 433.3,128.3C446.1,125.6 464.7,123.8 476.7,124.0C488.7,124.2 494.1,126.2 505.4,129.3C516.7,132.5 534.6,139.1 544.7,142.9C554.8,146.7 558.6,149.0 565.9,152.0C573.2,155.0 583.1,157.7 588.6,161.0C594.1,164.3 596.5,168.3 599.0,172.0C601.5,175.7 602.6,179.5 603.4,183.0C604.1,186.5 603.6,189.7 603.5,193.0C603.4,196.3 603.6,199.4 602.7,202.6C601.8,205.8 599.9,209.2 598.0,212.0C596.1,214.8 594.0,217.1 591.3,219.3C588.6,221.6 585.0,224.0 582.0,225.5C579.0,227.0 579.4,228.1 573.2,228.4C567.0,228.7 554.4,228.3 545.0,227.5C535.6,226.7 529.8,225.7 516.7,223.3C503.7,220.9 483.4,216.6 466.7,213.3C450.0,210.0 432.0,205.5 416.7,203.3C401.4,201.1 381.9,200.6 375.0,200.0" fill="none" stroke="#1c1c1c" stroke-width="1.35" stroke-dasharray="3.6 2" stroke-linecap="butt" stroke-linejoin="round" />
<path d="M1233.4,200.0C1233.7,197.2 1235.9,190.0 1235.1,183.3C1234.3,176.6 1232.9,167.2 1228.4,160.0C1224.0,152.8 1217.3,145.3 1208.4,140.0C1199.5,134.7 1187.9,131.0 1175.1,128.3C1162.3,125.6 1143.7,123.8 1131.7,124.0C1119.7,124.2 1114.3,126.2 1103.0,129.3C1091.7,132.5 1073.8,139.1 1063.7,142.9C1053.6,146.7 1049.8,149.0 1042.5,152.0C1035.2,155.0 1025.3,157.7 1019.8,161.0C1014.3,164.3 1011.9,168.3 1009.4,172.0C1006.9,175.7 1005.8,179.5 1005.0,183.0C1004.2,186.5 1004.8,189.7 1004.9,193.0C1005.0,196.3 1004.8,199.4 1005.7,202.6C1006.6,205.8 1008.5,209.2 1010.4,212.0C1012.3,214.8 1014.4,217.1 1017.1,219.3C1019.8,221.6 1023.4,224.0 1026.4,225.5C1029.4,227.0 1029.0,228.1 1035.2,228.4C1041.4,228.7 1054.0,228.3 1063.4,227.5C1072.8,226.7 1078.7,225.7 1091.7,223.3C1104.8,220.9 1125.0,216.6 1141.7,213.3C1158.4,210.0 1176.4,205.5 1191.7,203.3C1207.0,201.1 1226.5,200.6 1233.4,200.0" fill="none" stroke="#1c1c1c" stroke-width="1.35" stroke-dasharray="3.6 2" stroke-linecap="butt" stroke-linejoin="round" />
<path d="M536.9,175.4C538.4,173.6 541.9,167.0 545.9,164.8C549.9,162.7 556.0,162.2 561.1,162.5C566.2,162.8 571.4,164.2 576.2,166.3C581.0,168.5 586.6,171.4 589.8,175.4C592.9,179.4 594.9,185.4 595.1,190.5C595.4,195.6 593.4,201.4 591.3,205.7C589.2,210.0 585.3,213.8 582.3,216.3C579.3,218.8 576.7,220.8 573.2,220.8C569.7,220.8 565.7,218.8 561.1,216.3C556.5,213.8 549.9,209.0 545.9,205.7C541.9,202.4 538.8,199.1 536.9,196.6C535.0,194.1 535.0,191.5 534.6,190.5" fill="none" stroke="#1c1c1c" stroke-width="1.35" stroke-dasharray="3.6 2" stroke-linecap="butt" stroke-linejoin="round" />
<path d="M1071.5,175.4C1070.0,173.6 1066.5,167.0 1062.5,164.8C1058.5,162.7 1052.3,162.2 1047.3,162.5C1042.2,162.8 1037.0,164.2 1032.2,166.3C1027.4,168.5 1021.8,171.4 1018.6,175.4C1015.5,179.4 1013.5,185.4 1013.3,190.5C1013.0,195.6 1015.0,201.4 1017.1,205.7C1019.2,210.0 1023.1,213.8 1026.1,216.3C1029.1,218.8 1031.7,220.8 1035.2,220.8C1038.7,220.8 1042.8,218.8 1047.3,216.3C1051.8,213.8 1058.5,209.0 1062.5,205.7C1066.5,202.4 1069.6,199.1 1071.5,196.6C1073.4,194.1 1073.4,191.5 1073.8,190.5" fill="none" stroke="#1c1c1c" stroke-width="1.35" stroke-dasharray="3.6 2" stroke-linecap="butt" stroke-linejoin="round" />
<path d="M375.0,200.0C371.4,200.3 360.2,199.5 353.3,201.7C346.4,203.9 338.6,208.0 333.3,213.3C328.0,218.6 324.4,226.1 321.7,233.3C319.0,240.5 317.6,249.5 317.3,256.7C317.0,263.9 318.4,270.0 320.0,276.7C321.6,283.4 323.6,290.8 326.7,297.0C329.8,303.2 335.2,310.1 338.3,313.7C341.4,317.3 343.9,317.9 345.0,318.7" fill="none" stroke="#1c1c1c" stroke-width="1.35" stroke-dasharray="3.6 2" stroke-linecap="butt" stroke-linejoin="round" />
<path d="M1233.4,200.0C1237.0,200.3 1248.1,199.5 1255.1,201.7C1262.0,203.9 1269.8,208.0 1275.1,213.3C1280.4,218.6 1284.0,226.1 1286.7,233.3C1289.4,240.5 1290.8,249.5 1291.1,256.7C1291.4,263.9 1290.0,270.0 1288.4,276.7C1286.8,283.4 1284.8,290.8 1281.7,297.0C1278.7,303.2 1273.1,310.1 1270.1,313.7C1267.0,317.3 1264.5,317.9 1263.4,318.7" fill="none" stroke="#1c1c1c" stroke-width="1.35" stroke-dasharray="3.6 2" stroke-linecap="butt" stroke-linejoin="round" />
<path d="M466.7,213.3C469.8,214.6 474.7,216.5 485.4,220.8C496.1,225.1 516.9,233.2 530.8,239.0C544.7,244.8 559.5,251.4 568.6,255.6C577.7,259.8 581.5,259.8 585.3,264.3C589.1,268.8 590.8,276.4 591.3,282.5C591.8,288.6 590.8,295.1 588.3,300.7C585.8,306.2 580.0,312.0 576.2,315.8C572.4,319.6 569.9,321.4 565.6,323.4C561.3,325.4 558.8,327.6 550.5,327.9C542.2,328.1 526.6,327.2 515.7,324.9C504.9,322.6 498.0,316.8 485.4,314.3C472.8,311.8 456.4,311.8 440.0,309.7C423.6,307.6 400.0,302.4 386.7,302.0C373.4,301.6 366.9,304.2 360.0,307.0C353.1,309.8 347.5,316.8 345.0,318.7" fill="none" stroke="#1c1c1c" stroke-width="1.35" stroke-dasharray="3.6 2" stroke-linecap="butt" stroke-linejoin="round" />
<path d="M1141.7,213.3C1138.6,214.6 1133.7,216.5 1123.0,220.8C1112.3,225.1 1091.5,233.2 1077.6,239.0C1063.7,244.8 1048.9,251.4 1039.8,255.6C1030.7,259.8 1026.9,259.8 1023.1,264.3C1019.3,268.8 1017.6,276.4 1017.1,282.5C1016.6,288.6 1017.6,295.1 1020.1,300.7C1022.6,306.2 1028.4,312.0 1032.2,315.8C1036.0,319.6 1038.5,321.4 1042.8,323.4C1047.1,325.4 1049.6,327.6 1057.9,327.9C1066.2,328.1 1081.9,327.2 1092.7,324.9C1103.5,322.6 1110.4,316.8 1123.0,314.3C1135.6,311.8 1152.0,311.8 1168.4,309.7C1184.9,307.6 1208.4,302.4 1221.7,302.0C1235.0,301.6 1241.5,304.2 1248.4,307.0C1255.4,309.8 1260.9,316.8 1263.4,318.7" fill="none" stroke="#1c1c1c" stroke-width="1.35" stroke-dasharray="3.6 2" stroke-linecap="butt" stroke-linejoin="round" />
<path d="M558.0,261.3C556.0,260.7 550.4,257.5 545.9,257.5C541.4,257.5 534.6,257.9 530.8,261.3C527.0,264.7 524.5,272.7 523.2,278.0C521.9,283.3 521.9,288.8 523.2,293.1C524.5,297.4 527.5,300.9 530.8,303.7C534.1,306.5 540.9,308.7 542.9,309.7" fill="none" stroke="#1c1c1c" stroke-width="1.35" stroke-dasharray="3.6 2" stroke-linecap="butt" stroke-linejoin="round" />
<path d="M1050.4,261.3C1052.4,260.7 1058.0,257.5 1062.5,257.5C1067.0,257.5 1073.8,257.9 1077.6,261.3C1081.4,264.7 1083.9,272.7 1085.2,278.0C1086.5,283.3 1086.5,288.8 1085.2,293.1C1083.9,297.4 1080.9,300.9 1077.6,303.7C1074.3,306.5 1067.5,308.7 1065.5,309.7" fill="none" stroke="#1c1c1c" stroke-width="1.35" stroke-dasharray="3.6 2" stroke-linecap="butt" stroke-linejoin="round" />
<path d="M565.6,262.8C567.7,263.2 575.1,264.0 578.0,265.5C580.9,267.0 582.1,268.7 582.8,272.0C583.5,275.3 583.4,280.2 582.3,285.5C581.2,290.8 579.0,298.6 576.2,303.7C573.4,308.8 567.4,313.8 565.6,315.8" fill="none" stroke="#1c1c1c" stroke-width="1.35" stroke-dasharray="3.6 2" stroke-linecap="butt" stroke-linejoin="round" />
<path d="M1042.8,262.8C1040.7,263.2 1033.3,264.0 1030.4,265.5C1027.5,267.0 1026.3,268.7 1025.6,272.0C1024.9,275.3 1025.0,280.2 1026.1,285.5C1027.2,290.8 1029.4,298.6 1032.2,303.7C1035.0,308.8 1041.0,313.8 1042.8,315.8" fill="none" stroke="#1c1c1c" stroke-width="1.35" stroke-dasharray="3.6 2" stroke-linecap="butt" stroke-linejoin="round" />
<path d="M345.0,318.7C342.2,321.8 332.5,329.5 328.3,337.0C324.1,344.5 320.6,353.7 320.0,363.7C319.4,373.7 321.9,385.1 325.0,397.0C328.1,408.9 336.1,428.9 338.3,435.3" fill="none" stroke="#1c1c1c" stroke-width="1.35" stroke-dasharray="3.6 2" stroke-linecap="butt" stroke-linejoin="round" />
<path d="M1263.4,318.7C1266.2,321.8 1275.9,329.5 1280.1,337.0C1284.3,344.5 1287.9,353.7 1288.4,363.7C1289.0,373.7 1286.5,385.1 1283.4,397.0C1280.4,408.9 1272.3,428.9 1270.1,435.3" fill="none" stroke="#1c1c1c" stroke-width="1.35" stroke-dasharray="3.6 2" stroke-linecap="butt" stroke-linejoin="round" />
<path d="M515.7,324.9C520.7,327.4 536.3,334.5 545.9,339.7C555.5,344.9 565.6,351.5 573.2,356.3C580.8,361.1 587.3,363.3 591.3,368.4C595.3,373.4 596.9,380.6 597.4,386.6C597.9,392.7 596.4,399.6 594.4,404.7C592.4,409.8 589.1,413.4 585.3,416.9C581.5,420.4 575.7,423.9 571.7,425.9C567.7,427.9 565.4,429.0 561.1,429.0C556.8,429.0 552.2,427.9 545.9,425.9C539.6,423.9 530.8,420.2 523.2,416.9C515.6,413.6 506.8,408.7 500.5,406.3C494.2,403.9 490.4,403.3 485.4,402.5C480.4,401.7 475.4,401.4 470.3,401.7C465.2,401.9 464.0,402.6 455.1,404.0C446.2,405.4 430.3,408.7 416.7,410.3C403.1,411.9 384.4,412.0 373.3,413.7C362.2,415.4 355.8,416.7 350.0,420.3C344.2,423.9 340.2,432.8 338.3,435.3" fill="none" stroke="#1c1c1c" stroke-width="1.35" stroke-dasharray="3.6 2" stroke-linecap="butt" stroke-linejoin="round" />
<path d="M1092.7,324.9C1087.7,327.4 1072.1,334.5 1062.5,339.7C1052.9,344.9 1042.8,351.5 1035.2,356.3C1027.6,361.1 1021.1,363.3 1017.1,368.4C1013.1,373.4 1011.5,380.6 1011.0,386.6C1010.5,392.7 1012.0,399.6 1014.0,404.7C1016.0,409.8 1019.3,413.4 1023.1,416.9C1026.9,420.4 1032.7,423.9 1036.7,425.9C1040.7,427.9 1043.0,429.0 1047.3,429.0C1051.6,429.0 1056.2,427.9 1062.5,425.9C1068.8,423.9 1077.6,420.2 1085.2,416.9C1092.8,413.6 1101.6,408.7 1107.9,406.3C1114.2,403.9 1118.0,403.3 1123.0,402.5C1128.0,401.7 1133.0,401.4 1138.1,401.7C1143.1,401.9 1144.4,402.6 1153.3,404.0C1162.2,405.4 1178.1,408.7 1191.7,410.3C1205.3,411.9 1224.0,412.0 1235.1,413.7C1246.2,415.4 1252.6,416.7 1258.4,420.3C1264.2,423.9 1268.1,432.8 1270.1,435.3" fill="none" stroke="#1c1c1c" stroke-width="1.35" stroke-dasharray="3.6 2" stroke-linecap="butt" stroke-linejoin="round" />
<path d="M565.6,365.4C562.8,364.8 553.8,361.4 549.0,361.6C544.2,361.9 539.9,364.0 536.9,366.9C533.9,369.8 532.2,375.0 530.8,379.0C529.4,383.0 528.0,387.3 528.5,391.1C529.0,394.9 530.4,398.2 533.8,401.7C537.2,405.2 546.5,410.5 549.0,412.3" fill="none" stroke="#1c1c1c" stroke-width="1.35" stroke-dasharray="3.6 2" stroke-linecap="butt" stroke-linejoin="round" />
<path d="M1042.8,365.4C1045.6,364.8 1054.6,361.4 1059.4,361.6C1064.2,361.9 1068.5,364.0 1071.5,366.9C1074.5,369.8 1076.2,375.0 1077.6,379.0C1079.0,383.0 1080.4,387.3 1079.9,391.1C1079.4,394.9 1078.0,398.2 1074.6,401.7C1071.2,405.2 1061.9,410.5 1059.4,412.3" fill="none" stroke="#1c1c1c" stroke-width="1.35" stroke-dasharray="3.6 2" stroke-linecap="butt" stroke-linejoin="round" />
<path d="M576.2,369.9C577.7,370.9 583.5,373.0 585.3,376.0C587.1,379.0 587.3,382.8 586.8,388.1C586.3,393.4 585.3,402.8 582.3,407.8C579.3,412.9 570.9,416.6 568.6,418.4" fill="none" stroke="#1c1c1c" stroke-width="1.35" stroke-dasharray="3.6 2" stroke-linecap="butt" stroke-linejoin="round" />
<path d="M1032.2,369.9C1030.7,370.9 1024.9,373.0 1023.1,376.0C1021.3,379.0 1021.1,382.8 1021.6,388.1C1022.1,393.4 1023.1,402.8 1026.1,407.8C1029.1,412.9 1037.5,416.6 1039.8,418.4" fill="none" stroke="#1c1c1c" stroke-width="1.35" stroke-dasharray="3.6 2" stroke-linecap="butt" stroke-linejoin="round" />
<path d="M338.3,435.3C336.9,438.4 331.9,446.8 330.0,453.7C328.1,460.6 326.4,468.7 326.7,477.0C327.0,485.3 328.9,495.9 331.7,503.7C334.5,511.5 340.0,518.6 343.3,523.7C346.6,528.8 350.3,532.5 351.7,534.3" fill="none" stroke="#1c1c1c" stroke-width="1.35" stroke-dasharray="3.6 2" stroke-linecap="butt" stroke-linejoin="round" />
<path d="M1270.1,435.3C1271.5,438.4 1276.5,446.8 1278.4,453.7C1280.3,460.6 1282.0,468.7 1281.7,477.0C1281.4,485.3 1279.5,495.9 1276.7,503.7C1273.9,511.5 1268.4,518.6 1265.1,523.7C1261.8,528.8 1258.1,532.5 1256.7,534.3" fill="none" stroke="#1c1c1c" stroke-width="1.35" stroke-dasharray="3.6 2" stroke-linecap="butt" stroke-linejoin="round" />
<path d="M390.2,411.9C394.6,412.0 408.4,412.0 416.7,412.6C425.0,413.2 431.1,414.6 440.0,415.3C448.9,416.0 460.2,415.4 470.3,416.9C480.4,418.4 490.4,421.4 500.5,424.4C510.6,427.4 522.0,432.2 530.8,435.0C539.6,437.8 548.5,439.5 553.5,441.1C558.5,442.7 558.7,442.1 561.0,444.5C563.3,446.9 566.0,450.5 567.3,455.2C568.6,459.9 569.9,466.9 569.0,472.8C568.1,478.7 565.8,486.0 562.0,490.4C558.2,494.8 552.7,497.3 546.2,499.2C539.8,501.1 531.5,501.8 523.3,501.9C515.1,502.0 505.6,501.1 496.8,500.1C488.0,499.1 477.7,496.7 470.4,495.7C463.1,494.7 460.1,493.3 452.8,494.0C445.5,494.7 435.2,498.1 426.4,500.1C417.6,502.2 409.4,504.8 400.0,506.3C390.6,507.8 375.0,508.8 370.0,509.3" fill="none" stroke="#1c1c1c" stroke-width="1.35" stroke-dasharray="3.6 2" stroke-linecap="butt" stroke-linejoin="round" />
<path d="M1218.2,411.9C1213.8,412.0 1200.0,412.0 1191.7,412.6C1183.4,413.2 1177.3,414.6 1168.4,415.3C1159.5,416.0 1148.2,415.4 1138.1,416.9C1128.0,418.4 1118.0,421.4 1107.9,424.4C1097.8,427.4 1086.4,432.2 1077.6,435.0C1068.8,437.8 1059.9,439.5 1054.9,441.1C1049.9,442.7 1049.7,442.1 1047.4,444.5C1045.1,446.9 1042.4,450.5 1041.1,455.2C1039.8,459.9 1038.5,466.9 1039.4,472.8C1040.3,478.7 1042.6,486.0 1046.4,490.4C1050.2,494.8 1055.8,497.3 1062.2,499.2C1068.7,501.1 1076.9,501.8 1085.1,501.9C1093.3,502.0 1102.8,501.1 1111.6,500.1C1120.4,499.1 1130.7,496.7 1138.0,495.7C1145.3,494.7 1148.3,493.3 1155.6,494.0C1162.9,494.7 1173.2,498.1 1182.0,500.1C1190.8,502.2 1199.0,504.8 1208.4,506.3C1217.8,507.8 1233.4,508.8 1238.4,509.3" fill="none" stroke="#1c1c1c" stroke-width="1.35" stroke-dasharray="3.6 2" stroke-linecap="butt" stroke-linejoin="round" />
<path d="M519.7,446.4C523.8,445.4 531.2,444.8 537.4,445.5C543.6,446.2 552.9,447.4 556.7,450.8C560.5,454.2 560.5,460.4 560.2,465.8C559.9,471.2 557.3,478.8 555.0,483.4C552.7,487.9 550.3,492.2 546.2,493.1C542.1,494.0 535.6,490.9 530.3,488.7C525.0,486.5 518.2,483.7 514.5,479.9C510.8,476.1 508.6,470.5 508.3,465.8C508.0,461.1 510.8,454.9 512.7,451.7C514.6,448.5 515.6,447.4 519.7,446.4Z" fill="none" stroke="#1c1c1c" stroke-width="1.35" stroke-dasharray="3.6 2" stroke-linecap="butt" stroke-linejoin="round" />
<path d="M1088.7,446.4C1084.6,445.4 1077.2,444.8 1071.0,445.5C1064.8,446.2 1055.5,447.4 1051.7,450.8C1047.9,454.2 1047.9,460.4 1048.2,465.8C1048.5,471.2 1051.1,478.8 1053.4,483.4C1055.7,487.9 1058.1,492.2 1062.2,493.1C1066.3,494.0 1072.8,490.9 1078.1,488.7C1083.4,486.5 1090.2,483.7 1093.9,479.9C1097.6,476.1 1099.8,470.5 1100.1,465.8C1100.4,461.1 1097.6,454.9 1095.7,451.7C1093.8,448.5 1092.8,447.4 1088.7,446.4Z" fill="none" stroke="#1c1c1c" stroke-width="1.35" stroke-dasharray="3.6 2" stroke-linecap="butt" stroke-linejoin="round" />
<path d="M373.6,70.1C373.7,71.5 373.1,75.8 374.0,78.4C374.9,81.1 376.4,83.5 379.3,86.0C382.2,88.5 387.6,91.1 391.5,93.6C395.4,96.1 400.7,99.6 402.5,100.8" fill="none" stroke="#1c1c1c" stroke-width="1.45" stroke-linecap="round" stroke-linejoin="round" />
<path d="M410.8,109.4L400.7,104.9L405.3,99.8Z" fill="#1c1c1c" stroke="none"/>
<path d="M505.7,65.1C507.1,65.4 511.4,67.3 514.0,67.1C516.6,66.9 518.8,64.8 521.6,64.0C524.4,63.2 527.9,61.9 530.7,62.1C533.5,62.3 536.3,64.0 538.2,65.1C540.1,66.2 541.4,68.0 542.0,68.6" fill="none" stroke="#1c1c1c" stroke-width="1.45" stroke-linecap="round" stroke-linejoin="round" />
<path d="M1108.0,68.2C1106.2,68.2 1100.8,69.0 1097.2,68.4C1093.7,67.8 1089.9,65.2 1086.7,64.7C1083.5,64.2 1080.4,64.5 1077.9,65.5C1075.4,66.5 1072.7,69.9 1071.7,70.8" fill="none" stroke="#1c1c1c" stroke-width="1.45" stroke-linecap="round" stroke-linejoin="round" />
<path d="M751.0,70.3C750.5,72.2 747.8,77.3 748.1,81.7C748.4,86.1 751.3,92.2 752.9,96.9C754.5,101.6 756.5,106.8 757.6,110.0C758.7,113.2 759.2,115.0 759.5,116.0" fill="none" stroke="#1c1c1c" stroke-width="1.45" stroke-linecap="round" stroke-linejoin="round" />
<path d="M760.4,125.5L756.2,116.4L762.6,115.7Z" fill="#1c1c1c" stroke="none"/>
<path d="M744.3,150.9C745.4,150.8 749.1,149.9 751.0,150.5C752.9,151.1 754.7,152.1 755.8,154.5C756.9,156.9 757.3,161.5 757.6,165.1C757.9,168.7 757.8,174.2 757.8,176.0" fill="none" stroke="#1c1c1c" stroke-width="1.45" stroke-linecap="round" stroke-linejoin="round" />
<path d="M758.6,185.3L755.1,176.5L761.1,176.2Z" fill="#1c1c1c" stroke="none"/>
<path d="M873.2,151.8C871.5,152.4 865.3,153.1 862.8,155.6C860.3,158.1 858.3,162.9 858.0,167.0C857.7,171.1 860.4,176.4 860.9,180.2C861.4,184.0 860.9,188.1 860.9,189.7" fill="none" stroke="#1c1c1c" stroke-width="1.45" stroke-linecap="round" stroke-linejoin="round" />
<path d="M628.4,178.4C628.5,179.9 628.1,184.7 629.2,187.5C630.3,190.3 632.7,193.6 635.2,195.1C637.7,196.6 638.0,196.4 644.3,196.6C650.6,196.8 668.2,196.5 673.0,196.5" fill="none" stroke="#1c1c1c" stroke-width="1.45" stroke-linecap="round" stroke-linejoin="round" />
<path d="M465.7,173.1C468.5,173.0 476.6,171.8 482.4,172.4C488.2,173.0 494.4,175.8 500.5,176.9C506.6,178.0 513.4,179.3 518.7,179.2C524.0,179.1 530.0,176.7 532.3,176.2" fill="none" stroke="#1c1c1c" stroke-width="1.45" stroke-linecap="round" stroke-linejoin="round" />
<path d="M521.0,197.3C522.6,197.4 527.9,198.7 530.8,198.1C533.7,197.5 536.4,195.6 538.4,193.6C540.4,191.6 540.9,187.9 542.9,186.0C544.9,184.1 548.1,182.7 550.5,182.2C552.9,181.7 556.2,182.9 557.3,183.0" fill="none" stroke="#1c1c1c" stroke-width="1.45" stroke-linecap="round" stroke-linejoin="round" />
<path d="M520.2,253.0C522.0,253.4 527.8,253.4 530.8,255.3C533.8,257.2 536.4,261.0 538.4,264.3C540.4,267.6 541.1,271.6 542.9,274.9C544.7,278.2 546.2,281.7 549.0,284.0C551.8,286.3 557.8,287.8 559.5,288.6" fill="none" stroke="#1c1c1c" stroke-width="1.45" stroke-linecap="round" stroke-linejoin="round" />
<path d="M503.6,286.3C505.1,286.8 509.6,289.3 512.6,289.3C515.6,289.3 518.2,286.9 521.7,286.3C525.2,285.7 530.0,285.4 533.8,285.5C537.6,285.6 542.6,286.8 544.4,287.0" fill="none" stroke="#1c1c1c" stroke-width="1.45" stroke-linecap="round" stroke-linejoin="round" />
<path d="M514.2,381.3C515.5,381.7 518.9,383.6 521.7,383.6C524.5,383.6 527.3,381.9 530.8,381.3C534.3,380.7 539.1,379.7 542.9,379.8C546.7,379.9 551.7,381.6 553.5,382.0" fill="none" stroke="#1c1c1c" stroke-width="1.45" stroke-linecap="round" stroke-linejoin="round" />
<path d="M567.9,407.0C568.5,408.1 569.3,412.2 571.7,413.8C574.1,415.4 579.0,415.4 582.3,416.9C585.6,418.4 589.3,420.5 591.3,422.9C593.3,425.3 593.9,429.8 594.4,431.2" fill="none" stroke="#1c1c1c" stroke-width="1.45" stroke-linecap="round" stroke-linejoin="round" />
<path d="M285.0,256.7C286.5,257.2 291.0,260.1 294.0,260.0C297.0,259.9 300.2,256.8 303.0,256.0C305.8,255.2 308.6,255.4 311.0,255.5C313.4,255.6 316.2,256.5 317.3,256.7" fill="none" stroke="#1c1c1c" stroke-width="1.45" stroke-linecap="round" stroke-linejoin="round" />
<path d="M1322.4,256.7C1320.9,257.2 1316.4,260.1 1313.4,260.0C1310.4,259.9 1307.2,256.8 1304.4,256.0C1301.6,255.2 1298.6,255.4 1296.4,255.5C1294.2,255.6 1292.0,256.5 1291.1,256.7" fill="none" stroke="#1c1c1c" stroke-width="1.45" stroke-linecap="round" stroke-linejoin="round" />
<path d="M1142.5,172.3C1139.6,172.3 1130.8,171.6 1124.9,172.3C1119.0,173.0 1113.2,175.5 1107.3,176.7C1101.4,177.9 1095.0,179.3 1089.7,179.3C1084.4,179.3 1077.9,177.1 1075.6,176.7" fill="none" stroke="#1c1c1c" stroke-width="1.45" stroke-linecap="round" stroke-linejoin="round" />
<path d="M1083.5,197.8C1081.9,197.7 1076.6,198.2 1073.8,196.9C1071.0,195.6 1069.1,192.1 1066.8,189.9C1064.5,187.7 1062.9,184.9 1059.7,183.7C1056.5,182.5 1049.5,183.0 1047.4,182.8" fill="none" stroke="#1c1c1c" stroke-width="1.45" stroke-linecap="round" stroke-linejoin="round" />
<path d="M1087.0,251.5C1085.4,251.9 1080.1,252.3 1077.3,254.1C1074.5,255.9 1072.6,258.4 1070.3,262.1C1068.0,265.8 1065.7,271.9 1063.3,276.2C1060.9,280.5 1058.7,285.4 1056.0,288.0C1053.3,290.6 1048.5,291.3 1047.0,292.0" fill="none" stroke="#1c1c1c" stroke-width="1.45" stroke-linecap="round" stroke-linejoin="round" />
<path d="M1105.0,287.0C1103.5,287.5 1099.0,290.1 1096.0,290.0C1093.0,289.9 1090.5,287.2 1087.0,286.5C1083.5,285.8 1078.8,285.8 1075.0,286.0C1071.2,286.2 1065.8,287.2 1064.0,287.5" fill="none" stroke="#1c1c1c" stroke-width="1.45" stroke-linecap="round" stroke-linejoin="round" />
<path d="M1095.0,381.5C1093.7,381.9 1089.8,384.0 1087.0,384.0C1084.2,384.0 1081.5,382.2 1078.0,381.5C1074.5,380.8 1069.8,379.9 1066.0,380.0C1062.2,380.1 1056.8,381.7 1055.0,382.0" fill="none" stroke="#1c1c1c" stroke-width="1.45" stroke-linecap="round" stroke-linejoin="round" />
<path d="M1007.4,430.8C1008.3,429.6 1009.5,425.6 1012.7,423.8C1015.9,422.0 1023.0,421.8 1026.8,420.2C1030.6,418.6 1033.5,416.3 1035.6,414.1C1037.6,411.9 1038.5,408.2 1039.1,407.0" fill="none" stroke="#1c1c1c" stroke-width="1.45" stroke-linecap="round" stroke-linejoin="round" />
<path d="M1215.6,240.1C1215.1,242.3 1215.4,249.6 1212.9,253.3C1210.4,257.0 1205.1,259.6 1200.6,262.1C1196.1,264.6 1188.4,267.4 1186.0,268.5" fill="none" stroke="#1c1c1c" stroke-width="1.45" stroke-linecap="round" stroke-linejoin="round" />
<path d="M1176.6,275.6L1183.7,265.9L1187.9,271.5Z" fill="#1c1c1c" stroke="none"/>
<path d="M874.1,216.9C875.2,217.1 878.7,218.4 881.0,218.1C883.3,217.8 885.8,215.7 888.0,215.1C890.2,214.5 892.0,214.6 894.0,214.7C896.0,214.8 899.2,215.5 900.3,215.7" fill="none" stroke="#1c1c1c" stroke-width="1.45" stroke-linecap="round" stroke-linejoin="round" />
<path d="M874.1,283.0C875.2,283.2 878.7,284.5 881.0,284.2C883.3,283.9 885.8,281.8 888.0,281.2C890.2,280.6 892.0,280.7 894.0,280.8C896.0,280.9 899.2,281.6 900.3,281.8" fill="none" stroke="#1c1c1c" stroke-width="1.45" stroke-linecap="round" stroke-linejoin="round" />
<path d="M874.1,352.3C875.2,352.5 878.7,353.8 881.0,353.5C883.3,353.2 885.8,351.1 888.0,350.5C890.2,349.9 892.0,350.0 894.0,350.1C896.0,350.2 899.2,350.9 900.3,351.1" fill="none" stroke="#1c1c1c" stroke-width="1.45" stroke-linecap="round" stroke-linejoin="round" />
<path d="M884.1,309.3C881.4,309.6 873.0,311.2 868.0,311.4C863.0,311.6 857.6,311.6 853.9,310.4C850.2,309.2 847.8,306.3 845.8,304.3C843.8,302.3 842.5,299.2 841.8,298.2" fill="none" stroke="#1c1c1c" stroke-width="1.45" stroke-linecap="round" stroke-linejoin="round" />
<path d="M691.5,262.3C691.8,263.8 692.0,269.0 693.5,271.3C695.0,273.6 697.4,275.3 700.5,276.4C703.6,277.4 708.2,277.3 712.0,277.6C715.8,277.9 721.2,278.3 723.0,278.4" fill="none" stroke="#1c1c1c" stroke-width="1.45" stroke-linecap="round" stroke-linejoin="round" />
<path d="M732.5,279.4L722.8,281.6L723.3,275.6Z" fill="#1c1c1c" stroke="none"/>
<path d="M697.5,415.3C697.6,411.3 696.9,398.8 698.3,391.1C699.7,383.4 702.4,374.8 706.0,368.9C709.6,363.0 717.7,358.1 720.0,356.0" fill="none" stroke="#1c1c1c" stroke-width="1.45" stroke-linecap="round" stroke-linejoin="round" />
<path d="M727.3,350.2L721.8,359.2L717.5,354.1Z" fill="#1c1c1c" stroke="none"/>
<path d="M832.7,418.3C834.6,418.6 840.3,418.8 843.8,420.3C847.3,421.8 849.9,426.0 853.9,427.4C857.9,428.8 865.6,428.2 868.0,428.4" fill="none" stroke="#1c1c1c" stroke-width="1.45" stroke-linecap="round" stroke-linejoin="round" />
<path d="M993.3,514.5C993.6,516.0 993.9,520.1 995.1,523.3C996.3,526.5 999.1,530.6 1000.4,533.8C1001.7,537.0 1002.6,541.1 1003.0,542.6" fill="none" stroke="#1c1c1c" stroke-width="1.45" stroke-linecap="round" stroke-linejoin="round" />
<path d="M894.2,586.4C893.9,587.7 892.1,591.2 892.3,594.0C892.5,596.8 894.9,600.2 895.5,603.0C896.1,605.8 896.0,608.5 895.8,611.0C895.6,613.5 894.5,616.9 894.2,618.1" fill="none" stroke="#1c1c1c" stroke-width="1.45" stroke-linecap="round" stroke-linejoin="round" />
<path d="M815.0,659.4C816.2,659.1 819.5,657.2 822.0,657.5C824.5,657.8 827.3,660.2 830.0,661.0C832.7,661.8 835.2,662.7 838.0,662.5C840.8,662.3 845.3,660.2 846.8,659.8" fill="none" stroke="#1c1c1c" stroke-width="1.45" stroke-linecap="round" stroke-linejoin="round" />
<path d="M815.0,718.8C816.2,718.6 819.5,717.2 822.0,717.5C824.5,717.8 827.3,719.6 830.0,720.5C832.7,721.4 835.2,722.8 838.0,722.8C840.8,722.8 845.3,720.7 846.8,720.3" fill="none" stroke="#1c1c1c" stroke-width="1.45" stroke-linecap="round" stroke-linejoin="round" />
<path d="M932.8,721.3C935.6,721.8 943.5,724.1 949.5,724.1C955.5,724.1 963.5,722.2 968.5,721.3C973.5,720.3 976.2,718.5 979.8,718.4C983.4,718.3 988.5,720.3 990.2,720.7" fill="none" stroke="#1c1c1c" stroke-width="1.45" stroke-linecap="round" stroke-linejoin="round" />
<path d="M928.8,815.1C930.3,815.3 934.8,816.9 938.0,816.5C941.2,816.1 945.3,813.2 948.0,812.5C950.7,811.8 952.0,812.0 954.0,812.3C956.0,812.6 958.9,813.8 959.9,814.1" fill="none" stroke="#1c1c1c" stroke-width="1.45" stroke-linecap="round" stroke-linejoin="round" />
<text x="356.8" y="63.7" font-size="25.2" font-weight="normal" fill="#1c1c1c" textLength="32.1" lengthAdjust="spacingAndGlyphs">100</text>
<text x="469.4" y="70.7" font-size="25.2" font-weight="normal" fill="#1c1c1c" textLength="31.6" lengthAdjust="spacingAndGlyphs">115</text>
<text x="735.5" y="63.6" font-size="25.2" font-weight="normal" fill="#1c1c1c" textLength="31.6" lengthAdjust="spacingAndGlyphs">102</text>
<text x="1112.1" y="73.7" font-size="25.2" font-weight="normal" fill="#1c1c1c" textLength="31.6" lengthAdjust="spacingAndGlyphs">115</text>
<text x="415.5" y="178.7" font-size="25.2" font-weight="normal" fill="#1c1c1c" textLength="46.1" lengthAdjust="spacingAndGlyphs">132A</text>
<text x="472.8" y="207.7" font-size="25.2" font-weight="normal" fill="#1c1c1c" textLength="46.1" lengthAdjust="spacingAndGlyphs">140A</text>
<text x="611.5" y="173.7" font-size="25.2" font-weight="normal" fill="#1c1c1c" textLength="31.6" lengthAdjust="spacingAndGlyphs">118</text>
<text x="705.4" y="157.7" font-size="25.2" font-weight="normal" fill="#1c1c1c" textLength="30.6" lengthAdjust="spacingAndGlyphs">112</text>
<text x="876.9" y="157.7" font-size="25.2" font-weight="normal" fill="#1c1c1c" textLength="31.6" lengthAdjust="spacingAndGlyphs">116</text>
<text x="901.1" y="221.3" font-size="25.2" font-weight="normal" fill="#1c1c1c" textLength="31.6" lengthAdjust="spacingAndGlyphs">108</text>
<text x="901.1" y="288.0" font-size="25.2" font-weight="normal" fill="#1c1c1c" textLength="31.6" lengthAdjust="spacingAndGlyphs">108</text>
<text x="901.1" y="356.2" font-size="25.2" font-weight="normal" fill="#1c1c1c" textLength="31.6" lengthAdjust="spacingAndGlyphs">108</text>
<text x="889.0" y="315.8" font-size="25.2" font-weight="normal" fill="#1c1c1c" textLength="31.6" lengthAdjust="spacingAndGlyphs">116</text>
<text x="674.1" y="255.2" font-size="25.2" font-weight="normal" fill="#1c1c1c" textLength="31.6" lengthAdjust="spacingAndGlyphs">114</text>
<text x="682.8" y="319.8" font-size="25.2" font-weight="normal" fill="#1c1c1c" textLength="32.6" lengthAdjust="spacingAndGlyphs">106</text>
<path d="M684.0,329.9L715.7,329.9" fill="none" stroke="#1c1c1c" stroke-width="1.9" stroke-linecap="round" stroke-linejoin="round" />
<text x="682.2" y="434.0" font-size="25.2" font-weight="normal" fill="#1c1c1c" textLength="31.6" lengthAdjust="spacingAndGlyphs">110</text>
<text x="870.8" y="434.0" font-size="25.2" font-weight="normal" fill="#1c1c1c" textLength="31.6" lengthAdjust="spacingAndGlyphs">140</text>
<text x="472.8" y="263.7" font-size="25.2" font-weight="normal" fill="#1c1c1c" textLength="46.1" lengthAdjust="spacingAndGlyphs">140B</text>
<text x="454.8" y="293.7" font-size="25.2" font-weight="normal" fill="#1c1c1c" textLength="46.1" lengthAdjust="spacingAndGlyphs">132B</text>
<text x="248.8" y="263.1" font-size="25.2" font-weight="normal" fill="#1c1c1c" textLength="32.6" lengthAdjust="spacingAndGlyphs">130</text>
<text x="465.5" y="388.1" font-size="25.2" font-weight="normal" fill="#1c1c1c" textLength="46.1" lengthAdjust="spacingAndGlyphs">132C</text>
<text x="569.5" y="454.1" font-size="25.2" font-weight="normal" fill="#1c1c1c" textLength="46.1" lengthAdjust="spacingAndGlyphs">140C</text>
<text x="1143.9" y="178.0" font-size="25.2" font-weight="normal" fill="#1c1c1c" textLength="46.1" lengthAdjust="spacingAndGlyphs">132D</text>
<text x="1084.1" y="207.0" font-size="25.2" font-weight="normal" fill="#1c1c1c" textLength="46.6" lengthAdjust="spacingAndGlyphs">140D</text>
<text x="1201.5" y="233.1" font-size="25.2" font-weight="normal" fill="#1c1c1c" textLength="31.6" lengthAdjust="spacingAndGlyphs">104</text>
<text x="1087.6" y="258.1" font-size="25.2" font-weight="normal" fill="#1c1c1c" textLength="43.6" lengthAdjust="spacingAndGlyphs">140E</text>
<text x="1107.1" y="293.7" font-size="25.2" font-weight="normal" fill="#1c1c1c" textLength="44.1" lengthAdjust="spacingAndGlyphs">132E</text>
<text x="1325.5" y="263.4" font-size="25.2" font-weight="normal" fill="#1c1c1c" textLength="32.6" lengthAdjust="spacingAndGlyphs">130</text>
<text x="1097.1" y="388.7" font-size="25.2" font-weight="normal" fill="#1c1c1c" textLength="44.1" lengthAdjust="spacingAndGlyphs">132F</text>
<text x="985.1" y="450.4" font-size="25.2" font-weight="normal" fill="#1c1c1c" textLength="42.6" lengthAdjust="spacingAndGlyphs">140F</text>
<text x="985.3" y="565.0" font-size="25.2" font-weight="normal" fill="#1c1c1c" textLength="32.1" lengthAdjust="spacingAndGlyphs">156</text>
<text x="877.8" y="580.2" font-size="25.2" font-weight="normal" fill="#1c1c1c" textLength="31.6" lengthAdjust="spacingAndGlyphs">120</text>
<text x="777.8" y="666.4" font-size="25.2" font-weight="normal" fill="#1c1c1c" textLength="32.1" lengthAdjust="spacingAndGlyphs">122</text>
<text x="777.8" y="725.1" font-size="25.2" font-weight="normal" fill="#1c1c1c" textLength="32.1" lengthAdjust="spacingAndGlyphs">124</text>
<text x="994.8" y="727.0" font-size="25.2" font-weight="normal" fill="#1c1c1c" textLength="31.6" lengthAdjust="spacingAndGlyphs">126</text>
<text x="693.8" y="701.1" font-size="25.2" font-weight="normal" fill="#1c1c1c" textLength="32.6" lengthAdjust="spacingAndGlyphs">128</text>
<path d="M695.0,710.7L726.7,710.7" fill="none" stroke="#1c1c1c" stroke-width="1.9" stroke-linecap="round" stroke-linejoin="round" />
<text x="965.4" y="821.2" font-size="25.2" font-weight="normal" fill="#1c1c1c" textLength="29.6" lengthAdjust="spacingAndGlyphs">121</text>
<text x="855.7" y="724.2" font-size="14.5" font-weight="normal" fill="#3a3a3a" textLength="75.5" lengthAdjust="spacingAndGlyphs">Want to play?</text>
<text x="386.4" y="706.9" font-size="38.8" font-weight="bold" fill="#000" textLength="126.2" lengthAdjust="spacingAndGlyphs">FIG. 1A</text>
</svg>
</body></html>
